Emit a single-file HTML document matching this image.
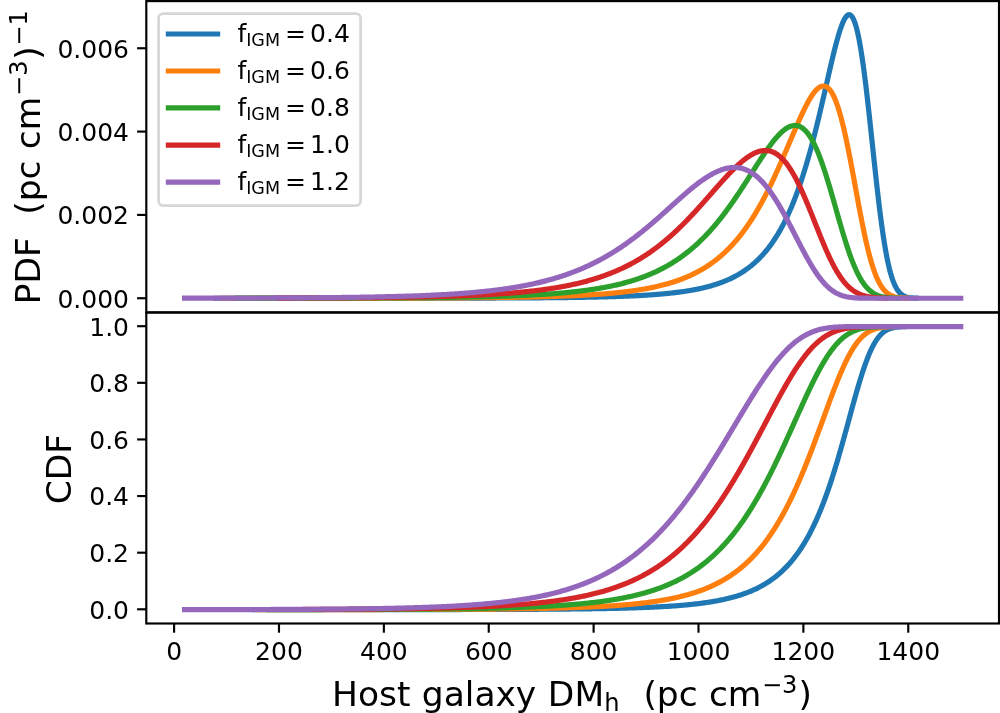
<!DOCTYPE html>
<html><head><meta charset="utf-8"><title>PDF and CDF of host galaxy DM</title>
<style>html,body{margin:0;padding:0;background:#fff}body{width:1000px;height:713px;overflow:hidden}svg{display:block}text{font-family:"DejaVu Sans","Liberation Sans",sans-serif;fill:#000}</style></head><body>
<svg width="1000" height="713" viewBox="0 0 1000 713">
<rect width="1000" height="713" fill="#fff"/>
<defs><clipPath id="c1"><rect x="146.3" y="1.1" width="852.7" height="311.34999999999997"/></clipPath><clipPath id="c2"><rect x="146.3" y="312.45" width="852.7" height="311.05"/></clipPath></defs>
<g fill="none" stroke-width="5.2" stroke-linejoin="round" clip-path="url(#c1)">
<path d="M213.59,298.24 L214.59,298.24 L215.59,298.24 L216.59,298.24 L217.59,298.24 L218.59,298.24 L219.59,298.24 L220.59,298.24 L221.59,298.24 L222.59,298.24 L223.59,298.24 L224.59,298.24 L225.59,298.24 L226.59,298.24 L227.59,298.24 L228.59,298.24 L229.59,298.24 L230.59,298.24 L231.59,298.24 L232.59,298.24 L233.59,298.24 L234.59,298.24 L235.59,298.24 L236.59,298.24 L237.59,298.24 L238.59,298.24 L239.59,298.24 L240.59,298.24 L241.59,298.24 L242.59,298.24 L243.59,298.24 L244.59,298.24 L245.59,298.24 L246.59,298.24 L247.59,298.24 L248.59,298.24 L249.59,298.24 L250.59,298.24 L251.59,298.24 L252.59,298.24 L253.59,298.24 L254.59,298.24 L255.59,298.24 L256.59,298.24 L257.59,298.24 L258.59,298.24 L259.59,298.24 L260.59,298.24 L261.59,298.24 L262.59,298.24 L263.59,298.24 L264.59,298.24 L265.59,298.24 L266.59,298.24 L267.59,298.24 L268.59,298.24 L269.59,298.24 L270.59,298.24 L271.59,298.24 L272.59,298.24 L273.59,298.24 L274.59,298.24 L275.59,298.24 L276.59,298.24 L277.59,298.24 L278.59,298.24 L279.59,298.24 L280.59,298.24 L281.59,298.24 L282.59,298.24 L283.59,298.24 L284.59,298.24 L285.59,298.24 L286.59,298.24 L287.59,298.24 L288.59,298.24 L289.59,298.24 L290.59,298.24 L291.59,298.24 L292.59,298.24 L293.59,298.24 L294.59,298.24 L295.59,298.24 L296.59,298.23 L297.59,298.23 L298.59,298.23 L299.59,298.23 L300.59,298.23 L301.59,298.23 L302.59,298.23 L303.59,298.23 L304.59,298.23 L305.59,298.23 L306.59,298.23 L307.59,298.23 L308.59,298.23 L309.59,298.23 L310.59,298.23 L311.59,298.23 L312.59,298.23 L313.59,298.23 L314.59,298.23 L315.59,298.23 L316.59,298.23 L317.59,298.23 L318.59,298.23 L319.59,298.23 L320.59,298.23 L321.59,298.23 L322.59,298.23 L323.59,298.23 L324.59,298.23 L325.59,298.23 L326.59,298.23 L327.59,298.23 L328.59,298.23 L329.59,298.23 L330.59,298.23 L331.59,298.23 L332.59,298.23 L333.59,298.23 L334.59,298.23 L335.59,298.23 L336.59,298.23 L337.59,298.23 L338.59,298.22 L339.59,298.22 L340.59,298.22 L341.59,298.22 L342.59,298.22 L343.59,298.22 L344.59,298.22 L345.59,298.22 L346.59,298.22 L347.59,298.22 L348.59,298.22 L349.59,298.22 L350.59,298.22 L351.59,298.22 L352.59,298.22 L353.59,298.22 L354.59,298.22 L355.59,298.22 L356.59,298.22 L357.59,298.22 L358.59,298.22 L359.59,298.22 L360.59,298.22 L361.59,298.22 L362.59,298.22 L363.59,298.22 L364.59,298.22 L365.59,298.21 L366.59,298.21 L367.59,298.21 L368.59,298.21 L369.59,298.21 L370.59,298.21 L371.59,298.21 L372.59,298.21 L373.59,298.21 L374.59,298.21 L375.59,298.21 L376.59,298.21 L377.59,298.21 L378.59,298.21 L379.59,298.21 L380.59,298.21 L381.59,298.21 L382.59,298.21 L383.59,298.21 L384.59,298.20 L385.59,298.20 L386.59,298.20 L387.59,298.20 L388.59,298.20 L389.59,298.20 L390.59,298.20 L391.59,298.20 L392.59,298.20 L393.59,298.20 L394.59,298.20 L395.59,298.20 L396.59,298.20 L397.59,298.20 L398.59,298.20 L399.59,298.19 L400.59,298.19 L401.59,298.19 L402.59,298.19 L403.59,298.19 L404.59,298.19 L405.59,298.19 L406.59,298.19 L407.59,298.19 L408.59,298.19 L409.59,298.19 L410.59,298.19 L411.59,298.18 L412.59,298.18 L413.59,298.18 L414.59,298.18 L415.59,298.18 L416.59,298.18 L417.59,298.18 L418.59,298.18 L419.59,298.18 L420.59,298.18 L421.59,298.17 L422.59,298.17 L423.59,298.17 L424.59,298.17 L425.59,298.17 L426.59,298.17 L427.59,298.17 L428.59,298.17 L429.59,298.17 L430.59,298.16 L431.59,298.16 L432.59,298.16 L433.59,298.16 L434.59,298.16 L435.59,298.16 L436.59,298.16 L437.59,298.16 L438.59,298.15 L439.59,298.15 L440.59,298.15 L441.59,298.15 L442.59,298.15 L443.59,298.15 L444.59,298.15 L445.59,298.14 L446.59,298.14 L447.59,298.14 L448.59,298.14 L449.59,298.14 L450.59,298.14 L451.59,298.14 L452.59,298.13 L453.59,298.13 L454.59,298.13 L455.59,298.13 L456.59,298.13 L457.59,298.12 L458.59,298.12 L459.59,298.12 L460.59,298.12 L461.59,298.12 L462.59,298.12 L463.59,298.11 L464.59,298.11 L465.59,298.11 L466.59,298.11 L467.59,298.10 L468.59,298.10 L469.59,298.10 L470.59,298.10 L471.59,298.10 L472.59,298.09 L473.59,298.09 L474.59,298.09 L475.59,298.09 L476.59,298.08 L477.59,298.08 L478.59,298.08 L479.59,298.08 L480.59,298.07 L481.59,298.07 L482.59,298.07 L483.59,298.07 L484.59,298.06 L485.59,298.06 L486.59,298.06 L487.59,298.05 L488.59,298.05 L489.59,298.05 L490.59,298.04 L491.59,298.04 L492.59,298.04 L493.59,298.04 L494.59,298.03 L495.59,298.03 L496.59,298.02 L497.59,298.02 L498.59,298.02 L499.59,298.01 L500.59,298.01 L501.59,298.01 L502.59,298.00 L503.59,298.00 L504.59,298.00 L505.59,297.99 L506.59,297.99 L507.59,297.98 L508.59,297.98 L509.59,297.97 L510.59,297.97 L511.59,297.97 L512.59,297.96 L513.59,297.96 L514.59,297.95 L515.59,297.95 L516.59,297.94 L517.59,297.94 L518.59,297.93 L519.59,297.93 L520.59,297.92 L521.59,297.92 L522.59,297.91 L523.59,297.91 L524.59,297.90 L525.59,297.89 L526.59,297.89 L527.59,297.88 L528.59,297.88 L529.59,297.87 L530.59,297.86 L531.59,297.86 L532.59,297.85 L533.59,297.84 L534.59,297.84 L535.59,297.83 L536.59,297.82 L537.59,297.82 L538.59,297.81 L539.59,297.80 L540.59,297.80 L541.59,297.79 L542.59,297.78 L543.59,297.77 L544.59,297.76 L545.59,297.76 L546.59,297.75 L547.59,297.74 L548.59,297.73 L549.59,297.72 L550.59,297.71 L551.59,297.70 L552.59,297.69 L553.59,297.69 L554.59,297.68 L555.59,297.67 L556.59,297.66 L557.59,297.65 L558.59,297.63 L559.59,297.62 L560.59,297.61 L561.59,297.60 L562.59,297.59 L563.59,297.58 L564.59,297.57 L565.59,297.56 L566.59,297.54 L567.59,297.53 L568.59,297.52 L569.59,297.51 L570.59,297.49 L571.59,297.48 L572.59,297.47 L573.59,297.45 L574.59,297.44 L575.59,297.42 L576.59,297.41 L577.59,297.40 L578.59,297.38 L579.59,297.36 L580.59,297.35 L581.59,297.33 L582.59,297.32 L583.59,297.30 L584.59,297.28 L585.59,297.27 L586.59,297.25 L587.59,297.23 L588.59,297.21 L589.59,297.19 L590.59,297.17 L591.59,297.15 L592.59,297.13 L593.59,297.11 L594.59,297.09 L595.59,297.07 L596.59,297.05 L597.59,297.03 L598.59,297.00 L599.59,296.98 L600.59,296.96 L601.59,296.93 L602.59,296.91 L603.59,296.88 L604.59,296.86 L605.59,296.83 L606.59,296.81 L607.59,296.78 L608.59,296.75 L609.59,296.72 L610.59,296.69 L611.59,296.67 L612.59,296.64 L613.59,296.60 L614.59,296.57 L615.59,296.54 L616.59,296.51 L617.59,296.48 L618.59,296.44 L619.59,296.41 L620.59,296.37 L621.59,296.34 L622.59,296.30 L623.59,296.26 L624.59,296.22 L625.59,296.18 L626.59,296.14 L627.59,296.10 L628.59,296.06 L629.59,296.02 L630.59,295.97 L631.59,295.93 L632.59,295.88 L633.59,295.84 L634.59,295.79 L635.59,295.74 L636.59,295.69 L637.59,295.64 L638.59,295.59 L639.59,295.53 L640.59,295.48 L641.59,295.42 L642.59,295.37 L643.59,295.31 L644.59,295.25 L645.59,295.19 L646.59,295.13 L647.59,295.07 L648.59,295.00 L649.59,294.93 L650.59,294.87 L651.59,294.80 L652.59,294.73 L653.59,294.65 L654.59,294.58 L655.59,294.51 L656.59,294.43 L657.59,294.35 L658.59,294.27 L659.59,294.19 L660.59,294.10 L661.59,294.01 L662.59,293.93 L663.59,293.84 L664.59,293.74 L665.59,293.65 L666.59,293.55 L667.59,293.45 L668.59,293.35 L669.59,293.25 L670.59,293.14 L671.59,293.03 L672.59,292.92 L673.59,292.81 L674.59,292.69 L675.59,292.57 L676.59,292.45 L677.59,292.32 L678.59,292.19 L679.59,292.06 L680.59,291.93 L681.59,291.79 L682.59,291.65 L683.59,291.51 L684.59,291.36 L685.59,291.21 L686.59,291.05 L687.59,290.89 L688.59,290.73 L689.59,290.56 L690.59,290.39 L691.59,290.22 L692.59,290.04 L693.59,289.86 L694.59,289.67 L695.59,289.48 L696.59,289.28 L697.59,289.08 L698.59,288.87 L699.59,288.66 L700.59,288.44 L701.59,288.22 L702.59,287.99 L703.59,287.76 L704.59,287.52 L705.59,287.27 L706.59,287.02 L707.59,286.76 L708.59,286.49 L709.59,286.22 L710.59,285.94 L711.59,285.66 L712.59,285.36 L713.59,285.06 L714.59,284.76 L715.59,284.44 L716.59,284.12 L717.59,283.78 L718.59,283.44 L719.59,283.09 L720.59,282.73 L721.59,282.36 L722.59,281.99 L723.59,281.60 L724.59,281.20 L725.59,280.79 L726.59,280.37 L727.59,279.95 L728.59,279.50 L729.59,279.05 L730.59,278.59 L731.59,278.11 L732.59,277.62 L733.59,277.12 L734.59,276.60 L735.59,276.08 L736.59,275.53 L737.59,274.97 L738.59,274.40 L739.59,273.81 L740.59,273.21 L741.59,272.59 L742.59,271.95 L743.59,271.30 L744.59,270.63 L745.59,269.94 L746.59,269.23 L747.59,268.51 L748.59,267.76 L749.59,266.99 L750.59,266.21 L751.59,265.40 L752.59,264.57 L753.59,263.72 L754.59,262.84 L755.59,261.94 L756.59,261.01 L757.59,260.06 L758.59,259.09 L759.59,258.09 L760.59,257.06 L761.59,256.00 L762.59,254.91 L763.59,253.80 L764.59,252.65 L765.59,251.47 L766.59,250.26 L767.59,249.02 L768.59,247.74 L769.59,246.43 L770.59,245.08 L771.59,243.69 L772.59,242.27 L773.59,240.81 L774.59,239.31 L775.59,237.77 L776.59,236.18 L777.59,234.56 L778.59,232.89 L779.59,231.17 L780.59,229.41 L781.59,227.60 L782.59,225.74 L783.59,223.84 L784.59,221.88 L785.59,219.87 L786.59,217.80 L787.59,215.69 L788.59,213.51 L789.59,211.28 L790.59,209.00 L791.59,206.65 L792.59,204.24 L793.59,201.78 L794.59,199.25 L795.59,196.65 L796.59,194.00 L797.59,191.27 L798.59,188.48 L799.59,185.63 L800.59,182.70 L801.59,179.71 L802.59,176.64 L803.59,173.51 L804.59,170.30 L805.59,167.03 L806.59,163.68 L807.59,160.26 L808.59,156.78 L809.59,153.22 L810.59,149.59 L811.59,145.89 L812.59,142.12 L813.59,138.29 L814.59,134.39 L815.59,130.43 L816.59,126.40 L817.59,122.32 L818.59,118.19 L819.59,114.00 L820.59,109.77 L821.59,105.49 L822.59,101.18 L823.59,96.84 L824.59,92.48 L825.59,88.10 L826.59,83.71 L827.59,79.32 L828.59,74.95 L829.59,70.60 L830.59,66.29 L831.59,62.02 L832.59,57.82 L833.59,53.70 L834.59,49.67 L835.59,45.75 L836.59,41.96 L837.59,38.33 L838.59,34.86 L839.59,31.59 L840.59,28.53 L841.59,25.71 L842.59,23.15 L843.59,20.88 L844.59,18.93 L845.59,17.31 L846.59,16.05 L847.59,15.18 L848.59,14.73 L849.59,14.71 L850.59,15.15 L851.59,16.07 L852.59,17.48 L853.59,19.41 L854.59,21.86 L855.59,24.85 L856.59,28.38 L857.59,32.45 L858.59,37.07 L859.59,42.23 L860.59,47.91 L861.59,54.10 L862.59,60.77 L863.59,67.91 L864.59,75.48 L865.59,83.44 L866.59,91.75 L867.59,100.38 L868.59,109.26 L869.59,118.35 L870.59,127.60 L871.59,136.95 L872.59,146.34 L873.59,155.72 L874.59,165.03 L875.59,174.23 L876.59,183.25 L877.59,192.05 L878.59,200.59 L879.59,208.83 L880.59,216.73 L881.59,224.26 L882.59,231.39 L883.59,238.12 L884.59,244.42 L885.59,250.28 L886.59,255.72 L887.59,260.72 L888.59,265.30 L889.59,269.46 L890.59,273.22 L891.59,276.61 L892.59,279.63 L893.59,282.32 L894.59,284.69 L895.59,286.76 L896.59,288.58 L897.59,290.15 L898.59,291.50 L899.59,292.66 L900.59,293.65 L901.59,294.48 L902.59,295.18 L903.59,295.76 L904.59,296.25 L905.59,296.65 L906.59,296.98 L907.59,297.24 L908.59,297.46 L909.59,297.63 L910.59,297.77 L911.59,297.88 L912.59,297.96 L913.59,298.03 L914.59,298.08 L915.59,298.13 L916.59,298.16 L917.59,298.18 L918.59,298.20" stroke="#1f77b4" stroke-linecap="butt"/>
<path d="M219.59,298.23 L220.59,298.23 L221.59,298.23 L222.59,298.23 L223.59,298.23 L224.59,298.23 L225.59,298.23 L226.59,298.23 L227.59,298.23 L228.59,298.23 L229.59,298.23 L230.59,298.23 L231.59,298.23 L232.59,298.23 L233.59,298.23 L234.59,298.23 L235.59,298.23 L236.59,298.23 L237.59,298.23 L238.59,298.23 L239.59,298.23 L240.59,298.23 L241.59,298.23 L242.59,298.23 L243.59,298.23 L244.59,298.23 L245.59,298.23 L246.59,298.23 L247.59,298.23 L248.59,298.23 L249.59,298.23 L250.59,298.22 L251.59,298.22 L252.59,298.22 L253.59,298.22 L254.59,298.22 L255.59,298.22 L256.59,298.22 L257.59,298.22 L258.59,298.22 L259.59,298.22 L260.59,298.22 L261.59,298.22 L262.59,298.22 L263.59,298.22 L264.59,298.22 L265.59,298.22 L266.59,298.22 L267.59,298.22 L268.59,298.22 L269.59,298.22 L270.59,298.22 L271.59,298.22 L272.59,298.22 L273.59,298.22 L274.59,298.22 L275.59,298.22 L276.59,298.22 L277.59,298.22 L278.59,298.21 L279.59,298.21 L280.59,298.21 L281.59,298.21 L282.59,298.21 L283.59,298.21 L284.59,298.21 L285.59,298.21 L286.59,298.21 L287.59,298.21 L288.59,298.21 L289.59,298.21 L290.59,298.21 L291.59,298.21 L292.59,298.21 L293.59,298.21 L294.59,298.21 L295.59,298.21 L296.59,298.21 L297.59,298.21 L298.59,298.20 L299.59,298.20 L300.59,298.20 L301.59,298.20 L302.59,298.20 L303.59,298.20 L304.59,298.20 L305.59,298.20 L306.59,298.20 L307.59,298.20 L308.59,298.20 L309.59,298.20 L310.59,298.20 L311.59,298.20 L312.59,298.20 L313.59,298.20 L314.59,298.19 L315.59,298.19 L316.59,298.19 L317.59,298.19 L318.59,298.19 L319.59,298.19 L320.59,298.19 L321.59,298.19 L322.59,298.19 L323.59,298.19 L324.59,298.19 L325.59,298.19 L326.59,298.19 L327.59,298.18 L328.59,298.18 L329.59,298.18 L330.59,298.18 L331.59,298.18 L332.59,298.18 L333.59,298.18 L334.59,298.18 L335.59,298.18 L336.59,298.18 L337.59,298.18 L338.59,298.17 L339.59,298.17 L340.59,298.17 L341.59,298.17 L342.59,298.17 L343.59,298.17 L344.59,298.17 L345.59,298.17 L346.59,298.17 L347.59,298.17 L348.59,298.16 L349.59,298.16 L350.59,298.16 L351.59,298.16 L352.59,298.16 L353.59,298.16 L354.59,298.16 L355.59,298.16 L356.59,298.15 L357.59,298.15 L358.59,298.15 L359.59,298.15 L360.59,298.15 L361.59,298.15 L362.59,298.15 L363.59,298.15 L364.59,298.14 L365.59,298.14 L366.59,298.14 L367.59,298.14 L368.59,298.14 L369.59,298.14 L370.59,298.13 L371.59,298.13 L372.59,298.13 L373.59,298.13 L374.59,298.13 L375.59,298.13 L376.59,298.13 L377.59,298.12 L378.59,298.12 L379.59,298.12 L380.59,298.12 L381.59,298.12 L382.59,298.11 L383.59,298.11 L384.59,298.11 L385.59,298.11 L386.59,298.11 L387.59,298.10 L388.59,298.10 L389.59,298.10 L390.59,298.10 L391.59,298.10 L392.59,298.09 L393.59,298.09 L394.59,298.09 L395.59,298.09 L396.59,298.09 L397.59,298.08 L398.59,298.08 L399.59,298.08 L400.59,298.08 L401.59,298.07 L402.59,298.07 L403.59,298.07 L404.59,298.07 L405.59,298.06 L406.59,298.06 L407.59,298.06 L408.59,298.06 L409.59,298.05 L410.59,298.05 L411.59,298.05 L412.59,298.04 L413.59,298.04 L414.59,298.04 L415.59,298.04 L416.59,298.03 L417.59,298.03 L418.59,298.03 L419.59,298.02 L420.59,298.02 L421.59,298.02 L422.59,298.01 L423.59,298.01 L424.59,298.01 L425.59,298.00 L426.59,298.00 L427.59,298.00 L428.59,297.99 L429.59,297.99 L430.59,297.98 L431.59,297.98 L432.59,297.98 L433.59,297.97 L434.59,297.97 L435.59,297.96 L436.59,297.96 L437.59,297.96 L438.59,297.95 L439.59,297.95 L440.59,297.94 L441.59,297.94 L442.59,297.93 L443.59,297.93 L444.59,297.92 L445.59,297.92 L446.59,297.91 L447.59,297.91 L448.59,297.90 L449.59,297.90 L450.59,297.89 L451.59,297.89 L452.59,297.88 L453.59,297.88 L454.59,297.87 L455.59,297.87 L456.59,297.86 L457.59,297.85 L458.59,297.85 L459.59,297.84 L460.59,297.84 L461.59,297.83 L462.59,297.82 L463.59,297.82 L464.59,297.81 L465.59,297.80 L466.59,297.80 L467.59,297.79 L468.59,297.78 L469.59,297.78 L470.59,297.77 L471.59,297.76 L472.59,297.75 L473.59,297.75 L474.59,297.74 L475.59,297.73 L476.59,297.72 L477.59,297.71 L478.59,297.71 L479.59,297.70 L480.59,297.69 L481.59,297.68 L482.59,297.67 L483.59,297.66 L484.59,297.65 L485.59,297.64 L486.59,297.64 L487.59,297.63 L488.59,297.62 L489.59,297.61 L490.59,297.60 L491.59,297.59 L492.59,297.58 L493.59,297.56 L494.59,297.55 L495.59,297.54 L496.59,297.53 L497.59,297.52 L498.59,297.51 L499.59,297.50 L500.59,297.49 L501.59,297.47 L502.59,297.46 L503.59,297.45 L504.59,297.44 L505.59,297.42 L506.59,297.41 L507.59,297.40 L508.59,297.38 L509.59,297.37 L510.59,297.35 L511.59,297.34 L512.59,297.32 L513.59,297.31 L514.59,297.29 L515.59,297.28 L516.59,297.26 L517.59,297.25 L518.59,297.23 L519.59,297.21 L520.59,297.20 L521.59,297.18 L522.59,297.16 L523.59,297.15 L524.59,297.13 L525.59,297.11 L526.59,297.09 L527.59,297.07 L528.59,297.05 L529.59,297.03 L530.59,297.01 L531.59,296.99 L532.59,296.97 L533.59,296.95 L534.59,296.93 L535.59,296.91 L536.59,296.88 L537.59,296.86 L538.59,296.84 L539.59,296.81 L540.59,296.79 L541.59,296.77 L542.59,296.74 L543.59,296.72 L544.59,296.69 L545.59,296.66 L546.59,296.64 L547.59,296.61 L548.59,296.58 L549.59,296.55 L550.59,296.52 L551.59,296.50 L552.59,296.47 L553.59,296.44 L554.59,296.40 L555.59,296.37 L556.59,296.34 L557.59,296.31 L558.59,296.27 L559.59,296.24 L560.59,296.21 L561.59,296.17 L562.59,296.14 L563.59,296.10 L564.59,296.06 L565.59,296.02 L566.59,295.99 L567.59,295.95 L568.59,295.91 L569.59,295.87 L570.59,295.82 L571.59,295.78 L572.59,295.74 L573.59,295.69 L574.59,295.65 L575.59,295.60 L576.59,295.56 L577.59,295.51 L578.59,295.46 L579.59,295.41 L580.59,295.36 L581.59,295.31 L582.59,295.26 L583.59,295.21 L584.59,295.15 L585.59,295.10 L586.59,295.04 L587.59,294.99 L588.59,294.93 L589.59,294.87 L590.59,294.81 L591.59,294.75 L592.59,294.68 L593.59,294.62 L594.59,294.55 L595.59,294.49 L596.59,294.42 L597.59,294.35 L598.59,294.28 L599.59,294.21 L600.59,294.13 L601.59,294.06 L602.59,293.98 L603.59,293.91 L604.59,293.83 L605.59,293.75 L606.59,293.66 L607.59,293.58 L608.59,293.49 L609.59,293.41 L610.59,293.32 L611.59,293.23 L612.59,293.13 L613.59,293.04 L614.59,292.94 L615.59,292.84 L616.59,292.74 L617.59,292.64 L618.59,292.54 L619.59,292.43 L620.59,292.32 L621.59,292.21 L622.59,292.10 L623.59,291.98 L624.59,291.87 L625.59,291.75 L626.59,291.62 L627.59,291.50 L628.59,291.37 L629.59,291.24 L630.59,291.11 L631.59,290.98 L632.59,290.84 L633.59,290.70 L634.59,290.55 L635.59,290.41 L636.59,290.26 L637.59,290.11 L638.59,289.95 L639.59,289.79 L640.59,289.63 L641.59,289.46 L642.59,289.30 L643.59,289.12 L644.59,288.95 L645.59,288.77 L646.59,288.59 L647.59,288.40 L648.59,288.21 L649.59,288.01 L650.59,287.82 L651.59,287.61 L652.59,287.41 L653.59,287.20 L654.59,286.98 L655.59,286.76 L656.59,286.54 L657.59,286.31 L658.59,286.07 L659.59,285.83 L660.59,285.59 L661.59,285.34 L662.59,285.09 L663.59,284.83 L664.59,284.56 L665.59,284.29 L666.59,284.02 L667.59,283.74 L668.59,283.45 L669.59,283.16 L670.59,282.86 L671.59,282.55 L672.59,282.24 L673.59,281.92 L674.59,281.59 L675.59,281.26 L676.59,280.92 L677.59,280.57 L678.59,280.22 L679.59,279.86 L680.59,279.49 L681.59,279.11 L682.59,278.73 L683.59,278.33 L684.59,277.93 L685.59,277.52 L686.59,277.10 L687.59,276.67 L688.59,276.24 L689.59,275.79 L690.59,275.34 L691.59,274.87 L692.59,274.40 L693.59,273.91 L694.59,273.42 L695.59,272.91 L696.59,272.40 L697.59,271.87 L698.59,271.33 L699.59,270.78 L700.59,270.22 L701.59,269.65 L702.59,269.06 L703.59,268.47 L704.59,267.86 L705.59,267.23 L706.59,266.60 L707.59,265.95 L708.59,265.29 L709.59,264.61 L710.59,263.92 L711.59,263.21 L712.59,262.49 L713.59,261.76 L714.59,261.01 L715.59,260.24 L716.59,259.46 L717.59,258.66 L718.59,257.85 L719.59,257.02 L720.59,256.17 L721.59,255.30 L722.59,254.42 L723.59,253.52 L724.59,252.60 L725.59,251.66 L726.59,250.70 L727.59,249.72 L728.59,248.72 L729.59,247.71 L730.59,246.67 L731.59,245.61 L732.59,244.53 L733.59,243.43 L734.59,242.30 L735.59,241.16 L736.59,239.99 L737.59,238.80 L738.59,237.59 L739.59,236.35 L740.59,235.09 L741.59,233.80 L742.59,232.49 L743.59,231.16 L744.59,229.80 L745.59,228.42 L746.59,227.01 L747.59,225.57 L748.59,224.11 L749.59,222.62 L750.59,221.11 L751.59,219.57 L752.59,218.00 L753.59,216.40 L754.59,214.78 L755.59,213.13 L756.59,211.45 L757.59,209.75 L758.59,208.01 L759.59,206.25 L760.59,204.47 L761.59,202.65 L762.59,200.81 L763.59,198.94 L764.59,197.04 L765.59,195.11 L766.59,193.16 L767.59,191.18 L768.59,189.18 L769.59,187.15 L770.59,185.09 L771.59,183.01 L772.59,180.91 L773.59,178.78 L774.59,176.63 L775.59,174.46 L776.59,172.27 L777.59,170.05 L778.59,167.82 L779.59,165.57 L780.59,163.30 L781.59,161.02 L782.59,158.72 L783.59,156.41 L784.59,154.09 L785.59,151.75 L786.59,149.41 L787.59,147.07 L788.59,144.72 L789.59,142.37 L790.59,140.01 L791.59,137.66 L792.59,135.32 L793.59,132.98 L794.59,130.66 L795.59,128.34 L796.59,126.04 L797.59,123.76 L798.59,121.51 L799.59,119.28 L800.59,117.08 L801.59,114.91 L802.59,112.78 L803.59,110.69 L804.59,108.65 L805.59,106.66 L806.59,104.72 L807.59,102.84 L808.59,101.03 L809.59,99.29 L810.59,97.63 L811.59,96.05 L812.59,94.56 L813.59,93.17 L814.59,91.88 L815.59,90.69 L816.59,89.62 L817.59,88.68 L818.59,87.86 L819.59,87.18 L820.59,86.65 L821.59,86.26 L822.59,86.04 L823.59,85.98 L824.59,86.09 L825.59,86.39 L826.59,86.87 L827.59,87.54 L828.59,88.42 L829.59,89.50 L830.59,90.79 L831.59,92.29 L832.59,94.01 L833.59,95.96 L834.59,98.13 L835.59,100.53 L836.59,103.16 L837.59,106.01 L838.59,109.08 L839.59,112.38 L840.59,115.90 L841.59,119.63 L842.59,123.56 L843.59,127.70 L844.59,132.02 L845.59,136.52 L846.59,141.19 L847.59,146.01 L848.59,150.97 L849.59,156.06 L850.59,161.25 L851.59,166.53 L852.59,171.89 L853.59,177.29 L854.59,182.74 L855.59,188.19 L856.59,193.64 L857.59,199.06 L858.59,204.44 L859.59,209.76 L860.59,214.99 L861.59,220.13 L862.59,225.15 L863.59,230.03 L864.59,234.78 L865.59,239.36 L866.59,243.77 L867.59,248.01 L868.59,252.05 L869.59,255.90 L870.59,259.56 L871.59,263.01 L872.59,266.25 L873.59,269.30 L874.59,272.14 L875.59,274.78 L876.59,277.23 L877.59,279.48 L878.59,281.56 L879.59,283.45 L880.59,285.18 L881.59,286.75 L882.59,288.17 L883.59,289.44 L884.59,290.59 L885.59,291.61 L886.59,292.51 L887.59,293.31 L888.59,294.02 L889.59,294.64 L890.59,295.18 L891.59,295.65 L892.59,296.06 L893.59,296.41 L894.59,296.71 L895.59,296.96 L896.59,297.18 L897.59,297.37 L898.59,297.52 L899.59,297.65 L900.59,297.76 L901.59,297.86 L902.59,297.93 L903.59,297.99 L904.59,298.04 L905.59,298.08 L906.59,298.12 L907.59,298.15 L908.59,298.17 L909.59,298.19" stroke="#ff7f0e" stroke-linecap="butt"/>
<path d="M234.59,298.20 L235.59,298.20 L236.59,298.20 L237.59,298.20 L238.59,298.20 L239.59,298.20 L240.59,298.20 L241.59,298.20 L242.59,298.20 L243.59,298.20 L244.59,298.20 L245.59,298.20 L246.59,298.19 L247.59,298.19 L248.59,298.19 L249.59,298.19 L250.59,298.19 L251.59,298.19 L252.59,298.19 L253.59,298.19 L254.59,298.19 L255.59,298.19 L256.59,298.19 L257.59,298.19 L258.59,298.19 L259.59,298.18 L260.59,298.18 L261.59,298.18 L262.59,298.18 L263.59,298.18 L264.59,298.18 L265.59,298.18 L266.59,298.18 L267.59,298.18 L268.59,298.18 L269.59,298.18 L270.59,298.17 L271.59,298.17 L272.59,298.17 L273.59,298.17 L274.59,298.17 L275.59,298.17 L276.59,298.17 L277.59,298.17 L278.59,298.17 L279.59,298.17 L280.59,298.16 L281.59,298.16 L282.59,298.16 L283.59,298.16 L284.59,298.16 L285.59,298.16 L286.59,298.16 L287.59,298.16 L288.59,298.16 L289.59,298.15 L290.59,298.15 L291.59,298.15 L292.59,298.15 L293.59,298.15 L294.59,298.15 L295.59,298.15 L296.59,298.14 L297.59,298.14 L298.59,298.14 L299.59,298.14 L300.59,298.14 L301.59,298.14 L302.59,298.14 L303.59,298.13 L304.59,298.13 L305.59,298.13 L306.59,298.13 L307.59,298.13 L308.59,298.13 L309.59,298.13 L310.59,298.12 L311.59,298.12 L312.59,298.12 L313.59,298.12 L314.59,298.12 L315.59,298.12 L316.59,298.11 L317.59,298.11 L318.59,298.11 L319.59,298.11 L320.59,298.11 L321.59,298.10 L322.59,298.10 L323.59,298.10 L324.59,298.10 L325.59,298.10 L326.59,298.09 L327.59,298.09 L328.59,298.09 L329.59,298.09 L330.59,298.09 L331.59,298.08 L332.59,298.08 L333.59,298.08 L334.59,298.08 L335.59,298.07 L336.59,298.07 L337.59,298.07 L338.59,298.07 L339.59,298.06 L340.59,298.06 L341.59,298.06 L342.59,298.06 L343.59,298.05 L344.59,298.05 L345.59,298.05 L346.59,298.05 L347.59,298.04 L348.59,298.04 L349.59,298.04 L350.59,298.03 L351.59,298.03 L352.59,298.03 L353.59,298.02 L354.59,298.02 L355.59,298.02 L356.59,298.02 L357.59,298.01 L358.59,298.01 L359.59,298.01 L360.59,298.00 L361.59,298.00 L362.59,298.00 L363.59,297.99 L364.59,297.99 L365.59,297.98 L366.59,297.98 L367.59,297.98 L368.59,297.97 L369.59,297.97 L370.59,297.97 L371.59,297.96 L372.59,297.96 L373.59,297.95 L374.59,297.95 L375.59,297.94 L376.59,297.94 L377.59,297.94 L378.59,297.93 L379.59,297.93 L380.59,297.92 L381.59,297.92 L382.59,297.91 L383.59,297.91 L384.59,297.90 L385.59,297.90 L386.59,297.89 L387.59,297.89 L388.59,297.88 L389.59,297.88 L390.59,297.87 L391.59,297.87 L392.59,297.86 L393.59,297.86 L394.59,297.85 L395.59,297.85 L396.59,297.84 L397.59,297.83 L398.59,297.83 L399.59,297.82 L400.59,297.82 L401.59,297.81 L402.59,297.80 L403.59,297.80 L404.59,297.79 L405.59,297.78 L406.59,297.78 L407.59,297.77 L408.59,297.76 L409.59,297.76 L410.59,297.75 L411.59,297.74 L412.59,297.73 L413.59,297.73 L414.59,297.72 L415.59,297.71 L416.59,297.70 L417.59,297.69 L418.59,297.69 L419.59,297.68 L420.59,297.67 L421.59,297.66 L422.59,297.65 L423.59,297.64 L424.59,297.63 L425.59,297.63 L426.59,297.62 L427.59,297.61 L428.59,297.60 L429.59,297.59 L430.59,297.58 L431.59,297.57 L432.59,297.56 L433.59,297.55 L434.59,297.54 L435.59,297.53 L436.59,297.52 L437.59,297.50 L438.59,297.49 L439.59,297.48 L440.59,297.47 L441.59,297.46 L442.59,297.45 L443.59,297.43 L444.59,297.42 L445.59,297.41 L446.59,297.40 L447.59,297.38 L448.59,297.37 L449.59,297.36 L450.59,297.34 L451.59,297.33 L452.59,297.32 L453.59,297.30 L454.59,297.29 L455.59,297.27 L456.59,297.26 L457.59,297.24 L458.59,297.23 L459.59,297.21 L460.59,297.20 L461.59,297.18 L462.59,297.16 L463.59,297.15 L464.59,297.13 L465.59,297.11 L466.59,297.10 L467.59,297.08 L468.59,297.06 L469.59,297.04 L470.59,297.02 L471.59,297.00 L472.59,296.99 L473.59,296.97 L474.59,296.95 L475.59,296.93 L476.59,296.91 L477.59,296.88 L478.59,296.86 L479.59,296.84 L480.59,296.82 L481.59,296.80 L482.59,296.78 L483.59,296.75 L484.59,296.73 L485.59,296.70 L486.59,296.68 L487.59,296.66 L488.59,296.63 L489.59,296.61 L490.59,296.58 L491.59,296.55 L492.59,296.53 L493.59,296.50 L494.59,296.47 L495.59,296.44 L496.59,296.42 L497.59,296.39 L498.59,296.36 L499.59,296.33 L500.59,296.30 L501.59,296.27 L502.59,296.23 L503.59,296.20 L504.59,296.17 L505.59,296.14 L506.59,296.10 L507.59,296.07 L508.59,296.03 L509.59,296.00 L510.59,295.96 L511.59,295.92 L512.59,295.89 L513.59,295.85 L514.59,295.81 L515.59,295.77 L516.59,295.73 L517.59,295.69 L518.59,295.65 L519.59,295.61 L520.59,295.57 L521.59,295.52 L522.59,295.48 L523.59,295.43 L524.59,295.39 L525.59,295.34 L526.59,295.29 L527.59,295.24 L528.59,295.20 L529.59,295.15 L530.59,295.10 L531.59,295.04 L532.59,294.99 L533.59,294.94 L534.59,294.88 L535.59,294.83 L536.59,294.77 L537.59,294.72 L538.59,294.66 L539.59,294.60 L540.59,294.54 L541.59,294.48 L542.59,294.41 L543.59,294.35 L544.59,294.29 L545.59,294.22 L546.59,294.15 L547.59,294.09 L548.59,294.02 L549.59,293.95 L550.59,293.88 L551.59,293.80 L552.59,293.73 L553.59,293.65 L554.59,293.58 L555.59,293.50 L556.59,293.42 L557.59,293.34 L558.59,293.26 L559.59,293.17 L560.59,293.09 L561.59,293.00 L562.59,292.91 L563.59,292.82 L564.59,292.73 L565.59,292.64 L566.59,292.54 L567.59,292.45 L568.59,292.35 L569.59,292.25 L570.59,292.15 L571.59,292.04 L572.59,291.94 L573.59,291.83 L574.59,291.72 L575.59,291.61 L576.59,291.50 L577.59,291.39 L578.59,291.27 L579.59,291.15 L580.59,291.03 L581.59,290.90 L582.59,290.78 L583.59,290.65 L584.59,290.52 L585.59,290.39 L586.59,290.25 L587.59,290.12 L588.59,289.98 L589.59,289.84 L590.59,289.69 L591.59,289.54 L592.59,289.39 L593.59,289.24 L594.59,289.09 L595.59,288.93 L596.59,288.77 L597.59,288.60 L598.59,288.44 L599.59,288.27 L600.59,288.10 L601.59,287.92 L602.59,287.74 L603.59,287.56 L604.59,287.37 L605.59,287.18 L606.59,286.99 L607.59,286.80 L608.59,286.60 L609.59,286.39 L610.59,286.19 L611.59,285.98 L612.59,285.76 L613.59,285.55 L614.59,285.32 L615.59,285.10 L616.59,284.87 L617.59,284.63 L618.59,284.40 L619.59,284.15 L620.59,283.91 L621.59,283.66 L622.59,283.40 L623.59,283.14 L624.59,282.87 L625.59,282.60 L626.59,282.33 L627.59,282.05 L628.59,281.77 L629.59,281.48 L630.59,281.18 L631.59,280.88 L632.59,280.57 L633.59,280.26 L634.59,279.95 L635.59,279.62 L636.59,279.30 L637.59,278.96 L638.59,278.62 L639.59,278.28 L640.59,277.92 L641.59,277.57 L642.59,277.20 L643.59,276.83 L644.59,276.45 L645.59,276.07 L646.59,275.67 L647.59,275.27 L648.59,274.87 L649.59,274.46 L650.59,274.04 L651.59,273.61 L652.59,273.17 L653.59,272.73 L654.59,272.28 L655.59,271.82 L656.59,271.35 L657.59,270.88 L658.59,270.39 L659.59,269.90 L660.59,269.40 L661.59,268.89 L662.59,268.38 L663.59,267.85 L664.59,267.31 L665.59,266.77 L666.59,266.21 L667.59,265.65 L668.59,265.07 L669.59,264.49 L670.59,263.90 L671.59,263.29 L672.59,262.68 L673.59,262.05 L674.59,261.42 L675.59,260.77 L676.59,260.11 L677.59,259.45 L678.59,258.77 L679.59,258.08 L680.59,257.37 L681.59,256.66 L682.59,255.93 L683.59,255.20 L684.59,254.45 L685.59,253.69 L686.59,252.91 L687.59,252.13 L688.59,251.33 L689.59,250.51 L690.59,249.69 L691.59,248.85 L692.59,248.00 L693.59,247.13 L694.59,246.26 L695.59,245.36 L696.59,244.46 L697.59,243.54 L698.59,242.61 L699.59,241.66 L700.59,240.70 L701.59,239.72 L702.59,238.73 L703.59,237.73 L704.59,236.71 L705.59,235.67 L706.59,234.62 L707.59,233.56 L708.59,232.48 L709.59,231.39 L710.59,230.28 L711.59,229.15 L712.59,228.01 L713.59,226.86 L714.59,225.69 L715.59,224.51 L716.59,223.31 L717.59,222.09 L718.59,220.86 L719.59,219.62 L720.59,218.36 L721.59,217.09 L722.59,215.80 L723.59,214.49 L724.59,213.18 L725.59,211.84 L726.59,210.50 L727.59,209.14 L728.59,207.76 L729.59,206.38 L730.59,204.98 L731.59,203.56 L732.59,202.14 L733.59,200.70 L734.59,199.25 L735.59,197.79 L736.59,196.31 L737.59,194.83 L738.59,193.34 L739.59,191.83 L740.59,190.32 L741.59,188.80 L742.59,187.27 L743.59,185.74 L744.59,184.19 L745.59,182.64 L746.59,181.09 L747.59,179.53 L748.59,177.97 L749.59,176.40 L750.59,174.84 L751.59,173.27 L752.59,171.70 L753.59,170.13 L754.59,168.57 L755.59,167.01 L756.59,165.45 L757.59,163.90 L758.59,162.35 L759.59,160.82 L760.59,159.29 L761.59,157.77 L762.59,156.26 L763.59,154.77 L764.59,153.29 L765.59,151.83 L766.59,150.39 L767.59,148.97 L768.59,147.56 L769.59,146.18 L770.59,144.83 L771.59,143.50 L772.59,142.20 L773.59,140.94 L774.59,139.70 L775.59,138.50 L776.59,137.34 L777.59,136.21 L778.59,135.13 L779.59,134.09 L780.59,133.10 L781.59,132.15 L782.59,131.26 L783.59,130.42 L784.59,129.63 L785.59,128.91 L786.59,128.24 L787.59,127.64 L788.59,127.11 L789.59,126.65 L790.59,126.26 L791.59,125.94 L792.59,125.70 L793.59,125.54 L794.59,125.47 L795.59,125.48 L796.59,125.58 L797.59,125.77 L798.59,126.05 L799.59,126.43 L800.59,126.91 L801.59,127.49 L802.59,128.17 L803.59,128.95 L804.59,129.85 L805.59,130.85 L806.59,131.96 L807.59,133.18 L808.59,134.52 L809.59,135.96 L810.59,137.52 L811.59,139.19 L812.59,140.98 L813.59,142.88 L814.59,144.89 L815.59,147.01 L816.59,149.24 L817.59,151.58 L818.59,154.03 L819.59,156.57 L820.59,159.22 L821.59,161.96 L822.59,164.80 L823.59,167.72 L824.59,170.73 L825.59,173.82 L826.59,176.98 L827.59,180.21 L828.59,183.49 L829.59,186.84 L830.59,190.23 L831.59,193.66 L832.59,197.13 L833.59,200.62 L834.59,204.13 L835.59,207.66 L836.59,211.18 L837.59,214.70 L838.59,218.21 L839.59,221.69 L840.59,225.15 L841.59,228.57 L842.59,231.95 L843.59,235.27 L844.59,238.54 L845.59,241.74 L846.59,244.87 L847.59,247.93 L848.59,250.90 L849.59,253.79 L850.59,256.58 L851.59,259.28 L852.59,261.88 L853.59,264.37 L854.59,266.77 L855.59,269.06 L856.59,271.24 L857.59,273.31 L858.59,275.28 L859.59,277.14 L860.59,278.90 L861.59,280.55 L862.59,282.10 L863.59,283.55 L864.59,284.90 L865.59,286.16 L866.59,287.33 L867.59,288.41 L868.59,289.40 L869.59,290.32 L870.59,291.16 L871.59,291.93 L872.59,292.63 L873.59,293.26 L874.59,293.84 L875.59,294.36 L876.59,294.83 L877.59,295.25 L878.59,295.62 L879.59,295.96 L880.59,296.26 L881.59,296.52 L882.59,296.75 L883.59,296.96 L884.59,297.14 L885.59,297.30 L886.59,297.44 L887.59,297.56 L888.59,297.66 L889.59,297.75 L890.59,297.83 L891.59,297.90 L892.59,297.95 L893.59,298.00 L894.59,298.04 L895.59,298.08 L896.59,298.11 L897.59,298.13 L898.59,298.15 L899.59,298.17" stroke="#2ca02c" stroke-linecap="butt"/>
<path d="M276.59,298.07 L277.59,298.06 L278.59,298.06 L279.59,298.06 L280.59,298.06 L281.59,298.05 L282.59,298.05 L283.59,298.05 L284.59,298.05 L285.59,298.04 L286.59,298.04 L287.59,298.04 L288.59,298.03 L289.59,298.03 L290.59,298.03 L291.59,298.03 L292.59,298.02 L293.59,298.02 L294.59,298.02 L295.59,298.01 L296.59,298.01 L297.59,298.01 L298.59,298.00 L299.59,298.00 L300.59,298.00 L301.59,297.99 L302.59,297.99 L303.59,297.99 L304.59,297.98 L305.59,297.98 L306.59,297.98 L307.59,297.97 L308.59,297.97 L309.59,297.97 L310.59,297.96 L311.59,297.96 L312.59,297.95 L313.59,297.95 L314.59,297.95 L315.59,297.94 L316.59,297.94 L317.59,297.93 L318.59,297.93 L319.59,297.92 L320.59,297.92 L321.59,297.92 L322.59,297.91 L323.59,297.91 L324.59,297.90 L325.59,297.90 L326.59,297.89 L327.59,297.89 L328.59,297.88 L329.59,297.88 L330.59,297.87 L331.59,297.87 L332.59,297.86 L333.59,297.86 L334.59,297.85 L335.59,297.85 L336.59,297.84 L337.59,297.83 L338.59,297.83 L339.59,297.82 L340.59,297.82 L341.59,297.81 L342.59,297.80 L343.59,297.80 L344.59,297.79 L345.59,297.79 L346.59,297.78 L347.59,297.77 L348.59,297.77 L349.59,297.76 L350.59,297.75 L351.59,297.75 L352.59,297.74 L353.59,297.73 L354.59,297.72 L355.59,297.72 L356.59,297.71 L357.59,297.70 L358.59,297.69 L359.59,297.69 L360.59,297.68 L361.59,297.67 L362.59,297.66 L363.59,297.65 L364.59,297.65 L365.59,297.64 L366.59,297.63 L367.59,297.62 L368.59,297.61 L369.59,297.60 L370.59,297.59 L371.59,297.58 L372.59,297.58 L373.59,297.57 L374.59,297.56 L375.59,297.55 L376.59,297.54 L377.59,297.53 L378.59,297.52 L379.59,297.51 L380.59,297.49 L381.59,297.48 L382.59,297.47 L383.59,297.46 L384.59,297.45 L385.59,297.44 L386.59,297.43 L387.59,297.42 L388.59,297.40 L389.59,297.39 L390.59,297.38 L391.59,297.37 L392.59,297.35 L393.59,297.34 L394.59,297.33 L395.59,297.32 L396.59,297.30 L397.59,297.29 L398.59,297.27 L399.59,297.26 L400.59,297.25 L401.59,297.23 L402.59,297.22 L403.59,297.20 L404.59,297.19 L405.59,297.17 L406.59,297.16 L407.59,297.14 L408.59,297.12 L409.59,297.11 L410.59,297.09 L411.59,297.07 L412.59,297.06 L413.59,297.04 L414.59,297.02 L415.59,297.00 L416.59,296.99 L417.59,296.97 L418.59,296.95 L419.59,296.93 L420.59,296.91 L421.59,296.89 L422.59,296.87 L423.59,296.85 L424.59,296.83 L425.59,296.81 L426.59,296.79 L427.59,296.77 L428.59,296.74 L429.59,296.72 L430.59,296.70 L431.59,296.68 L432.59,296.65 L433.59,296.63 L434.59,296.61 L435.59,296.58 L436.59,296.56 L437.59,296.53 L438.59,296.51 L439.59,296.48 L440.59,296.45 L441.59,296.43 L442.59,296.40 L443.59,296.37 L444.59,296.34 L445.59,296.32 L446.59,296.29 L447.59,296.26 L448.59,296.23 L449.59,296.20 L450.59,296.17 L451.59,296.14 L452.59,296.10 L453.59,296.07 L454.59,296.04 L455.59,296.01 L456.59,295.97 L457.59,295.94 L458.59,295.90 L459.59,295.87 L460.59,295.83 L461.59,295.79 L462.59,295.76 L463.59,295.72 L464.59,295.68 L465.59,295.64 L466.59,295.60 L467.59,295.56 L468.59,295.52 L469.59,295.48 L470.59,295.44 L471.59,295.40 L472.59,295.35 L473.59,295.31 L474.59,295.26 L475.59,295.22 L476.59,295.17 L477.59,295.13 L478.59,295.08 L479.59,295.03 L480.59,294.98 L481.59,294.93 L482.59,294.88 L483.59,294.83 L484.59,294.77 L485.59,294.72 L486.59,294.67 L487.59,294.61 L488.59,294.56 L489.59,294.50 L490.59,294.44 L491.59,294.38 L492.59,294.32 L493.59,294.26 L494.59,294.20 L495.59,294.14 L496.59,294.08 L497.59,294.01 L498.59,293.94 L499.59,293.88 L500.59,293.81 L501.59,293.74 L502.59,293.67 L503.59,293.60 L504.59,293.53 L505.59,293.46 L506.59,293.38 L507.59,293.31 L508.59,293.23 L509.59,293.15 L510.59,293.07 L511.59,292.99 L512.59,292.91 L513.59,292.82 L514.59,292.74 L515.59,292.65 L516.59,292.57 L517.59,292.48 L518.59,292.39 L519.59,292.29 L520.59,292.20 L521.59,292.11 L522.59,292.01 L523.59,291.91 L524.59,291.81 L525.59,291.71 L526.59,291.61 L527.59,291.50 L528.59,291.40 L529.59,291.29 L530.59,291.18 L531.59,291.07 L532.59,290.96 L533.59,290.84 L534.59,290.72 L535.59,290.61 L536.59,290.49 L537.59,290.36 L538.59,290.24 L539.59,290.11 L540.59,289.98 L541.59,289.85 L542.59,289.72 L543.59,289.58 L544.59,289.45 L545.59,289.31 L546.59,289.17 L547.59,289.02 L548.59,288.87 L549.59,288.73 L550.59,288.57 L551.59,288.42 L552.59,288.27 L553.59,288.11 L554.59,287.95 L555.59,287.78 L556.59,287.61 L557.59,287.45 L558.59,287.27 L559.59,287.10 L560.59,286.92 L561.59,286.74 L562.59,286.56 L563.59,286.37 L564.59,286.18 L565.59,285.99 L566.59,285.79 L567.59,285.60 L568.59,285.39 L569.59,285.19 L570.59,284.98 L571.59,284.77 L572.59,284.55 L573.59,284.33 L574.59,284.11 L575.59,283.89 L576.59,283.66 L577.59,283.42 L578.59,283.19 L579.59,282.95 L580.59,282.70 L581.59,282.45 L582.59,282.20 L583.59,281.95 L584.59,281.68 L585.59,281.42 L586.59,281.15 L587.59,280.88 L588.59,280.60 L589.59,280.32 L590.59,280.03 L591.59,279.74 L592.59,279.45 L593.59,279.15 L594.59,278.84 L595.59,278.53 L596.59,278.22 L597.59,277.90 L598.59,277.57 L599.59,277.24 L600.59,276.91 L601.59,276.57 L602.59,276.22 L603.59,275.87 L604.59,275.52 L605.59,275.16 L606.59,274.79 L607.59,274.42 L608.59,274.04 L609.59,273.65 L610.59,273.26 L611.59,272.87 L612.59,272.46 L613.59,272.05 L614.59,271.64 L615.59,271.22 L616.59,270.79 L617.59,270.36 L618.59,269.92 L619.59,269.47 L620.59,269.01 L621.59,268.55 L622.59,268.09 L623.59,267.61 L624.59,267.13 L625.59,266.64 L626.59,266.14 L627.59,265.64 L628.59,265.13 L629.59,264.61 L630.59,264.09 L631.59,263.55 L632.59,263.01 L633.59,262.46 L634.59,261.91 L635.59,261.34 L636.59,260.77 L637.59,260.19 L638.59,259.60 L639.59,259.00 L640.59,258.40 L641.59,257.78 L642.59,257.16 L643.59,256.53 L644.59,255.89 L645.59,255.24 L646.59,254.58 L647.59,253.92 L648.59,253.24 L649.59,252.56 L650.59,251.87 L651.59,251.16 L652.59,250.45 L653.59,249.73 L654.59,249.00 L655.59,248.26 L656.59,247.52 L657.59,246.76 L658.59,245.99 L659.59,245.22 L660.59,244.43 L661.59,243.63 L662.59,242.83 L663.59,242.02 L664.59,241.19 L665.59,240.36 L666.59,239.52 L667.59,238.66 L668.59,237.80 L669.59,236.93 L670.59,236.05 L671.59,235.16 L672.59,234.26 L673.59,233.35 L674.59,232.43 L675.59,231.50 L676.59,230.56 L677.59,229.62 L678.59,228.66 L679.59,227.70 L680.59,226.72 L681.59,225.74 L682.59,224.75 L683.59,223.75 L684.59,222.74 L685.59,221.73 L686.59,220.70 L687.59,219.67 L688.59,218.63 L689.59,217.58 L690.59,216.53 L691.59,215.47 L692.59,214.40 L693.59,213.32 L694.59,212.24 L695.59,211.15 L696.59,210.06 L697.59,208.96 L698.59,207.85 L699.59,206.74 L700.59,205.63 L701.59,204.51 L702.59,203.39 L703.59,202.26 L704.59,201.13 L705.59,200.00 L706.59,198.86 L707.59,197.73 L708.59,196.59 L709.59,195.45 L710.59,194.31 L711.59,193.17 L712.59,192.03 L713.59,190.89 L714.59,189.76 L715.59,188.62 L716.59,187.49 L717.59,186.36 L718.59,185.23 L719.59,184.11 L720.59,183.00 L721.59,181.88 L722.59,180.78 L723.59,179.68 L724.59,178.59 L725.59,177.51 L726.59,176.43 L727.59,175.37 L728.59,174.31 L729.59,173.27 L730.59,172.23 L731.59,171.21 L732.59,170.21 L733.59,169.21 L734.59,168.23 L735.59,167.27 L736.59,166.32 L737.59,165.39 L738.59,164.48 L739.59,163.59 L740.59,162.71 L741.59,161.86 L742.59,161.03 L743.59,160.22 L744.59,159.44 L745.59,158.68 L746.59,157.95 L747.59,157.24 L748.59,156.57 L749.59,155.92 L750.59,155.30 L751.59,154.71 L752.59,154.16 L753.59,153.64 L754.59,153.15 L755.59,152.71 L756.59,152.30 L757.59,151.92 L758.59,151.59 L759.59,151.30 L760.59,151.06 L761.59,150.86 L762.59,150.70 L763.59,150.59 L764.59,150.53 L765.59,150.52 L766.59,150.56 L767.59,150.65 L768.59,150.79 L769.59,150.99 L770.59,151.25 L771.59,151.56 L772.59,151.93 L773.59,152.36 L774.59,152.85 L775.59,153.40 L776.59,154.01 L777.59,154.69 L778.59,155.43 L779.59,156.23 L780.59,157.10 L781.59,158.04 L782.59,159.04 L783.59,160.11 L784.59,161.25 L785.59,162.45 L786.59,163.72 L787.59,165.05 L788.59,166.46 L789.59,167.93 L790.59,169.46 L791.59,171.06 L792.59,172.72 L793.59,174.45 L794.59,176.24 L795.59,178.09 L796.59,180.00 L797.59,181.96 L798.59,183.98 L799.59,186.06 L800.59,188.18 L801.59,190.36 L802.59,192.58 L803.59,194.84 L804.59,197.15 L805.59,199.49 L806.59,201.87 L807.59,204.27 L808.59,206.71 L809.59,209.17 L810.59,211.65 L811.59,214.15 L812.59,216.66 L813.59,219.18 L814.59,221.70 L815.59,224.23 L816.59,226.75 L817.59,229.27 L818.59,231.77 L819.59,234.26 L820.59,236.74 L821.59,239.18 L822.59,241.61 L823.59,244.00 L824.59,246.36 L825.59,248.68 L826.59,250.96 L827.59,253.20 L828.59,255.39 L829.59,257.53 L830.59,259.61 L831.59,261.65 L832.59,263.63 L833.59,265.55 L834.59,267.41 L835.59,269.21 L836.59,270.94 L837.59,272.61 L838.59,274.22 L839.59,275.76 L840.59,277.24 L841.59,278.66 L842.59,280.00 L843.59,281.29 L844.59,282.51 L845.59,283.67 L846.59,284.76 L847.59,285.80 L848.59,286.78 L849.59,287.70 L850.59,288.56 L851.59,289.37 L852.59,290.12 L853.59,290.83 L854.59,291.49 L855.59,292.10 L856.59,292.66 L857.59,293.19 L858.59,293.67 L859.59,294.12 L860.59,294.53 L861.59,294.90 L862.59,295.25 L863.59,295.56 L864.59,295.85 L865.59,296.11 L866.59,296.34 L867.59,296.56 L868.59,296.75 L869.59,296.92 L870.59,297.08 L871.59,297.22 L872.59,297.34 L873.59,297.45 L874.59,297.55 L875.59,297.64 L876.59,297.72 L877.59,297.79 L878.59,297.85 L879.59,297.91 L880.59,297.95 L881.59,297.99 L882.59,298.03 L883.59,298.06 L884.59,298.09 L885.59,298.11 L886.59,298.13 L887.59,298.15 L888.59,298.17" stroke="#d62728" stroke-linecap="butt"/>
<path d="M184.59,298.17 L185.59,298.17 L186.59,298.17 L187.59,298.17 L188.59,298.16 L189.59,298.16 L190.59,298.16 L191.59,298.16 L192.59,298.16 L193.59,298.16 L194.59,298.16 L195.59,298.16 L196.59,298.15 L197.59,298.15 L198.59,298.15 L199.59,298.15 L200.59,298.15 L201.59,298.15 L202.59,298.15 L203.59,298.14 L204.59,298.14 L205.59,298.14 L206.59,298.14 L207.59,298.14 L208.59,298.14 L209.59,298.13 L210.59,298.13 L211.59,298.13 L212.59,298.13 L213.59,298.13 L214.59,298.13 L215.59,298.12 L216.59,298.12 L217.59,298.12 L218.59,298.12 L219.59,298.12 L220.59,298.12 L221.59,298.11 L222.59,298.11 L223.59,298.11 L224.59,298.11 L225.59,298.11 L226.59,298.10 L227.59,298.10 L228.59,298.10 L229.59,298.10 L230.59,298.10 L231.59,298.09 L232.59,298.09 L233.59,298.09 L234.59,298.09 L235.59,298.08 L236.59,298.08 L237.59,298.08 L238.59,298.08 L239.59,298.07 L240.59,298.07 L241.59,298.07 L242.59,298.07 L243.59,298.06 L244.59,298.06 L245.59,298.06 L246.59,298.06 L247.59,298.05 L248.59,298.05 L249.59,298.05 L250.59,298.04 L251.59,298.04 L252.59,298.04 L253.59,298.04 L254.59,298.03 L255.59,298.03 L256.59,298.03 L257.59,298.02 L258.59,298.02 L259.59,298.02 L260.59,298.01 L261.59,298.01 L262.59,298.01 L263.59,298.00 L264.59,298.00 L265.59,297.99 L266.59,297.99 L267.59,297.99 L268.59,297.98 L269.59,297.98 L270.59,297.98 L271.59,297.97 L272.59,297.97 L273.59,297.96 L274.59,297.96 L275.59,297.96 L276.59,297.95 L277.59,297.95 L278.59,297.94 L279.59,297.94 L280.59,297.93 L281.59,297.93 L282.59,297.92 L283.59,297.92 L284.59,297.91 L285.59,297.91 L286.59,297.90 L287.59,297.90 L288.59,297.89 L289.59,297.89 L290.59,297.88 L291.59,297.88 L292.59,297.87 L293.59,297.87 L294.59,297.86 L295.59,297.86 L296.59,297.85 L297.59,297.84 L298.59,297.84 L299.59,297.83 L300.59,297.83 L301.59,297.82 L302.59,297.81 L303.59,297.81 L304.59,297.80 L305.59,297.79 L306.59,297.79 L307.59,297.78 L308.59,297.77 L309.59,297.77 L310.59,297.76 L311.59,297.75 L312.59,297.74 L313.59,297.74 L314.59,297.73 L315.59,297.72 L316.59,297.71 L317.59,297.71 L318.59,297.70 L319.59,297.69 L320.59,297.68 L321.59,297.67 L322.59,297.66 L323.59,297.66 L324.59,297.65 L325.59,297.64 L326.59,297.63 L327.59,297.62 L328.59,297.61 L329.59,297.60 L330.59,297.59 L331.59,297.58 L332.59,297.57 L333.59,297.56 L334.59,297.55 L335.59,297.54 L336.59,297.53 L337.59,297.52 L338.59,297.51 L339.59,297.50 L340.59,297.48 L341.59,297.47 L342.59,297.46 L343.59,297.45 L344.59,297.44 L345.59,297.43 L346.59,297.41 L347.59,297.40 L348.59,297.39 L349.59,297.37 L350.59,297.36 L351.59,297.35 L352.59,297.33 L353.59,297.32 L354.59,297.31 L355.59,297.29 L356.59,297.28 L357.59,297.26 L358.59,297.25 L359.59,297.23 L360.59,297.22 L361.59,297.20 L362.59,297.19 L363.59,297.17 L364.59,297.15 L365.59,297.14 L366.59,297.12 L367.59,297.10 L368.59,297.09 L369.59,297.07 L370.59,297.05 L371.59,297.03 L372.59,297.01 L373.59,296.99 L374.59,296.98 L375.59,296.96 L376.59,296.94 L377.59,296.92 L378.59,296.90 L379.59,296.88 L380.59,296.85 L381.59,296.83 L382.59,296.81 L383.59,296.79 L384.59,296.77 L385.59,296.74 L386.59,296.72 L387.59,296.70 L388.59,296.68 L389.59,296.65 L390.59,296.63 L391.59,296.60 L392.59,296.58 L393.59,296.55 L394.59,296.52 L395.59,296.50 L396.59,296.47 L397.59,296.44 L398.59,296.42 L399.59,296.39 L400.59,296.36 L401.59,296.33 L402.59,296.30 L403.59,296.27 L404.59,296.24 L405.59,296.21 L406.59,296.18 L407.59,296.15 L408.59,296.12 L409.59,296.08 L410.59,296.05 L411.59,296.02 L412.59,295.98 L413.59,295.95 L414.59,295.91 L415.59,295.87 L416.59,295.84 L417.59,295.80 L418.59,295.76 L419.59,295.73 L420.59,295.69 L421.59,295.65 L422.59,295.61 L423.59,295.57 L424.59,295.52 L425.59,295.48 L426.59,295.44 L427.59,295.40 L428.59,295.35 L429.59,295.31 L430.59,295.26 L431.59,295.22 L432.59,295.17 L433.59,295.12 L434.59,295.07 L435.59,295.02 L436.59,294.97 L437.59,294.92 L438.59,294.87 L439.59,294.82 L440.59,294.77 L441.59,294.71 L442.59,294.66 L443.59,294.60 L444.59,294.55 L445.59,294.49 L446.59,294.43 L447.59,294.37 L448.59,294.31 L449.59,294.25 L450.59,294.19 L451.59,294.13 L452.59,294.06 L453.59,294.00 L454.59,293.93 L455.59,293.86 L456.59,293.80 L457.59,293.73 L458.59,293.66 L459.59,293.59 L460.59,293.51 L461.59,293.44 L462.59,293.37 L463.59,293.29 L464.59,293.21 L465.59,293.14 L466.59,293.06 L467.59,292.98 L468.59,292.89 L469.59,292.81 L470.59,292.73 L471.59,292.64 L472.59,292.55 L473.59,292.47 L474.59,292.38 L475.59,292.28 L476.59,292.19 L477.59,292.10 L478.59,292.00 L479.59,291.91 L480.59,291.81 L481.59,291.71 L482.59,291.61 L483.59,291.50 L484.59,291.40 L485.59,291.29 L486.59,291.19 L487.59,291.08 L488.59,290.96 L489.59,290.85 L490.59,290.74 L491.59,290.62 L492.59,290.50 L493.59,290.38 L494.59,290.26 L495.59,290.14 L496.59,290.01 L497.59,289.88 L498.59,289.76 L499.59,289.62 L500.59,289.49 L501.59,289.36 L502.59,289.22 L503.59,289.08 L504.59,288.94 L505.59,288.79 L506.59,288.65 L507.59,288.50 L508.59,288.35 L509.59,288.20 L510.59,288.04 L511.59,287.88 L512.59,287.72 L513.59,287.56 L514.59,287.40 L515.59,287.23 L516.59,287.06 L517.59,286.89 L518.59,286.71 L519.59,286.54 L520.59,286.36 L521.59,286.17 L522.59,285.99 L523.59,285.80 L524.59,285.61 L525.59,285.41 L526.59,285.22 L527.59,285.02 L528.59,284.82 L529.59,284.61 L530.59,284.40 L531.59,284.19 L532.59,283.97 L533.59,283.76 L534.59,283.54 L535.59,283.31 L536.59,283.08 L537.59,282.85 L538.59,282.62 L539.59,282.38 L540.59,282.14 L541.59,281.89 L542.59,281.65 L543.59,281.39 L544.59,281.14 L545.59,280.88 L546.59,280.62 L547.59,280.35 L548.59,280.08 L549.59,279.80 L550.59,279.53 L551.59,279.24 L552.59,278.96 L553.59,278.67 L554.59,278.37 L555.59,278.08 L556.59,277.77 L557.59,277.47 L558.59,277.15 L559.59,276.84 L560.59,276.52 L561.59,276.19 L562.59,275.87 L563.59,275.53 L564.59,275.19 L565.59,274.85 L566.59,274.50 L567.59,274.15 L568.59,273.79 L569.59,273.43 L570.59,273.07 L571.59,272.69 L572.59,272.32 L573.59,271.94 L574.59,271.55 L575.59,271.16 L576.59,270.76 L577.59,270.36 L578.59,269.95 L579.59,269.54 L580.59,269.12 L581.59,268.70 L582.59,268.27 L583.59,267.83 L584.59,267.39 L585.59,266.94 L586.59,266.49 L587.59,266.04 L588.59,265.57 L589.59,265.10 L590.59,264.63 L591.59,264.15 L592.59,263.66 L593.59,263.17 L594.59,262.67 L595.59,262.16 L596.59,261.65 L597.59,261.14 L598.59,260.61 L599.59,260.08 L600.59,259.55 L601.59,259.01 L602.59,258.46 L603.59,257.90 L604.59,257.34 L605.59,256.77 L606.59,256.20 L607.59,255.62 L608.59,255.03 L609.59,254.44 L610.59,253.84 L611.59,253.23 L612.59,252.62 L613.59,252.00 L614.59,251.37 L615.59,250.74 L616.59,250.10 L617.59,249.45 L618.59,248.80 L619.59,248.14 L620.59,247.47 L621.59,246.80 L622.59,246.12 L623.59,245.43 L624.59,244.74 L625.59,244.04 L626.59,243.33 L627.59,242.62 L628.59,241.90 L629.59,241.17 L630.59,240.44 L631.59,239.70 L632.59,238.96 L633.59,238.21 L634.59,237.45 L635.59,236.68 L636.59,235.91 L637.59,235.14 L638.59,234.35 L639.59,233.57 L640.59,232.77 L641.59,231.97 L642.59,231.17 L643.59,230.35 L644.59,229.54 L645.59,228.71 L646.59,227.89 L647.59,227.05 L648.59,226.22 L649.59,225.37 L650.59,224.53 L651.59,223.67 L652.59,222.82 L653.59,221.95 L654.59,221.09 L655.59,220.22 L656.59,219.35 L657.59,218.47 L658.59,217.59 L659.59,216.71 L660.59,215.82 L661.59,214.93 L662.59,214.04 L663.59,213.14 L664.59,212.25 L665.59,211.35 L666.59,210.45 L667.59,209.55 L668.59,208.65 L669.59,207.74 L670.59,206.84 L671.59,205.94 L672.59,205.03 L673.59,204.13 L674.59,203.23 L675.59,202.33 L676.59,201.43 L677.59,200.54 L678.59,199.64 L679.59,198.75 L680.59,197.86 L681.59,196.98 L682.59,196.10 L683.59,195.22 L684.59,194.35 L685.59,193.49 L686.59,192.63 L687.59,191.77 L688.59,190.93 L689.59,190.09 L690.59,189.25 L691.59,188.43 L692.59,187.62 L693.59,186.81 L694.59,186.01 L695.59,185.23 L696.59,184.45 L697.59,183.69 L698.59,182.93 L699.59,182.19 L700.59,181.46 L701.59,180.75 L702.59,180.04 L703.59,179.35 L704.59,178.68 L705.59,178.01 L706.59,177.37 L707.59,176.74 L708.59,176.12 L709.59,175.52 L710.59,174.94 L711.59,174.38 L712.59,173.83 L713.59,173.30 L714.59,172.79 L715.59,172.30 L716.59,171.83 L717.59,171.38 L718.59,170.95 L719.59,170.54 L720.59,170.15 L721.59,169.79 L722.59,169.45 L723.59,169.14 L724.59,168.85 L725.59,168.58 L726.59,168.34 L727.59,168.13 L728.59,167.95 L729.59,167.79 L730.59,167.66 L731.59,167.57 L732.59,167.50 L733.59,167.46 L734.59,167.45 L735.59,167.48 L736.59,167.54 L737.59,167.63 L738.59,167.75 L739.59,167.91 L740.59,168.11 L741.59,168.34 L742.59,168.60 L743.59,168.90 L744.59,169.24 L745.59,169.62 L746.59,170.04 L747.59,170.49 L748.59,170.98 L749.59,171.51 L750.59,172.09 L751.59,172.70 L752.59,173.35 L753.59,174.04 L754.59,174.78 L755.59,175.55 L756.59,176.37 L757.59,177.22 L758.59,178.12 L759.59,179.06 L760.59,180.04 L761.59,181.06 L762.59,182.13 L763.59,183.23 L764.59,184.38 L765.59,185.57 L766.59,186.79 L767.59,188.06 L768.59,189.36 L769.59,190.71 L770.59,192.09 L771.59,193.51 L772.59,194.97 L773.59,196.46 L774.59,197.99 L775.59,199.56 L776.59,201.15 L777.59,202.78 L778.59,204.44 L779.59,206.13 L780.59,207.85 L781.59,209.60 L782.59,211.37 L783.59,213.17 L784.59,214.99 L785.59,216.83 L786.59,218.70 L787.59,220.57 L788.59,222.47 L789.59,224.38 L790.59,226.30 L791.59,228.23 L792.59,230.18 L793.59,232.12 L794.59,234.07 L795.59,236.03 L796.59,237.98 L797.59,239.93 L798.59,241.87 L799.59,243.81 L800.59,245.74 L801.59,247.65 L802.59,249.55 L803.59,251.44 L804.59,253.31 L805.59,255.15 L806.59,256.98 L807.59,258.77 L808.59,260.54 L809.59,262.28 L810.59,263.99 L811.59,265.67 L812.59,267.31 L813.59,268.91 L814.59,270.47 L815.59,271.99 L816.59,273.47 L817.59,274.91 L818.59,276.30 L819.59,277.65 L820.59,278.95 L821.59,280.20 L822.59,281.41 L823.59,282.56 L824.59,283.67 L825.59,284.73 L826.59,285.73 L827.59,286.69 L828.59,287.60 L829.59,288.47 L830.59,289.28 L831.59,290.05 L832.59,290.77 L833.59,291.44 L834.59,292.07 L835.59,292.66 L836.59,293.21 L837.59,293.72 L838.59,294.18 L839.59,294.61 L840.59,295.01 L841.59,295.37 L842.59,295.70 L843.59,296.00 L844.59,296.27 L845.59,296.52 L846.59,296.74 L847.59,296.93 L848.59,297.11 L849.59,297.27 L850.59,297.40 L851.59,297.53 L852.59,297.63 L853.59,297.73 L854.59,297.81 L855.59,297.88 L856.59,297.94 L857.59,297.99 L858.59,298.03 L859.59,298.07 L860.59,298.10 L861.59,298.13 L862.59,298.15 L863.59,298.17 L864.59,298.19 L865.59,298.20 L866.59,298.21 L867.59,298.22 L868.59,298.22 L869.59,298.23 L870.59,298.23 L871.59,298.24 L872.59,298.24 L873.59,298.24 L874.59,298.24 L875.59,298.25 L876.59,298.25 L877.59,298.25 L878.59,298.25 L879.59,298.25 L880.59,298.25 L881.59,298.25 L882.59,298.25 L883.59,298.25 L884.59,298.25 L885.59,298.25 L886.59,298.25 L887.59,298.25 L888.59,298.25 L889.59,298.25 L890.59,298.25 L891.59,298.25 L892.59,298.25 L893.59,298.25 L894.59,298.25 L895.59,298.25 L896.59,298.25 L897.59,298.25 L898.59,298.25 L899.59,298.25 L900.59,298.25 L901.59,298.25 L902.59,298.25 L903.59,298.25 L904.59,298.25 L905.59,298.25 L906.59,298.25 L907.59,298.25 L908.59,298.25 L909.59,298.25 L910.59,298.25 L911.59,298.25 L912.59,298.25 L913.59,298.25 L914.59,298.25 L915.59,298.25 L916.59,298.25 L917.59,298.25 L918.59,298.25 L919.59,298.25 L920.59,298.25 L921.59,298.25 L922.59,298.25 L923.59,298.25 L924.59,298.25 L925.59,298.25 L926.59,298.25 L927.59,298.25 L928.59,298.25 L929.59,298.25 L930.59,298.25 L931.59,298.25 L932.59,298.25 L933.59,298.25 L934.59,298.25 L935.59,298.25 L936.59,298.25 L937.59,298.25 L938.59,298.25 L939.59,298.25 L940.59,298.25 L941.59,298.25 L942.59,298.25 L943.59,298.25 L944.59,298.25 L945.59,298.25 L946.59,298.25 L947.59,298.25 L948.59,298.25 L949.59,298.25 L950.59,298.25 L951.59,298.25 L952.59,298.25 L953.59,298.25 L954.59,298.25 L955.59,298.25 L956.59,298.25 L957.59,298.25 L958.59,298.25 L959.59,298.25 L960.59,298.25 L960.70,298.25" stroke="#9467bd" stroke-linecap="square"/>
</g>
<g fill="none" stroke-width="5.2" stroke-linejoin="round" clip-path="url(#c2)">
<path d="M252.59,609.64 L253.59,609.64 L254.59,609.64 L255.59,609.64 L256.59,609.64 L257.59,609.64 L258.59,609.64 L259.59,609.64 L260.59,609.64 L261.59,609.64 L262.59,609.64 L263.59,609.64 L264.59,609.64 L265.59,609.64 L266.59,609.64 L267.59,609.64 L268.59,609.64 L269.59,609.64 L270.59,609.64 L271.59,609.64 L272.59,609.64 L273.59,609.64 L274.59,609.64 L275.59,609.64 L276.59,609.64 L277.59,609.64 L278.59,609.64 L279.59,609.64 L280.59,609.64 L281.59,609.64 L282.59,609.64 L283.59,609.64 L284.59,609.64 L285.59,609.64 L286.59,609.64 L287.59,609.64 L288.59,609.64 L289.59,609.64 L290.59,609.64 L291.59,609.64 L292.59,609.64 L293.59,609.64 L294.59,609.64 L295.59,609.64 L296.59,609.64 L297.59,609.64 L298.59,609.64 L299.59,609.64 L300.59,609.64 L301.59,609.64 L302.59,609.64 L303.59,609.64 L304.59,609.64 L305.59,609.64 L306.59,609.64 L307.59,609.64 L308.59,609.64 L309.59,609.63 L310.59,609.63 L311.59,609.63 L312.59,609.63 L313.59,609.63 L314.59,609.63 L315.59,609.63 L316.59,609.63 L317.59,609.63 L318.59,609.63 L319.59,609.63 L320.59,609.63 L321.59,609.63 L322.59,609.63 L323.59,609.63 L324.59,609.63 L325.59,609.63 L326.59,609.63 L327.59,609.63 L328.59,609.63 L329.59,609.63 L330.59,609.63 L331.59,609.63 L332.59,609.63 L333.59,609.63 L334.59,609.63 L335.59,609.63 L336.59,609.63 L337.59,609.63 L338.59,609.63 L339.59,609.63 L340.59,609.63 L341.59,609.63 L342.59,609.63 L343.59,609.63 L344.59,609.62 L345.59,609.62 L346.59,609.62 L347.59,609.62 L348.59,609.62 L349.59,609.62 L350.59,609.62 L351.59,609.62 L352.59,609.62 L353.59,609.62 L354.59,609.62 L355.59,609.62 L356.59,609.62 L357.59,609.62 L358.59,609.62 L359.59,609.62 L360.59,609.62 L361.59,609.62 L362.59,609.62 L363.59,609.62 L364.59,609.62 L365.59,609.62 L366.59,609.62 L367.59,609.62 L368.59,609.62 L369.59,609.61 L370.59,609.61 L371.59,609.61 L372.59,609.61 L373.59,609.61 L374.59,609.61 L375.59,609.61 L376.59,609.61 L377.59,609.61 L378.59,609.61 L379.59,609.61 L380.59,609.61 L381.59,609.61 L382.59,609.61 L383.59,609.61 L384.59,609.61 L385.59,609.61 L386.59,609.61 L387.59,609.60 L388.59,609.60 L389.59,609.60 L390.59,609.60 L391.59,609.60 L392.59,609.60 L393.59,609.60 L394.59,609.60 L395.59,609.60 L396.59,609.60 L397.59,609.60 L398.59,609.60 L399.59,609.60 L400.59,609.60 L401.59,609.60 L402.59,609.59 L403.59,609.59 L404.59,609.59 L405.59,609.59 L406.59,609.59 L407.59,609.59 L408.59,609.59 L409.59,609.59 L410.59,609.59 L411.59,609.59 L412.59,609.59 L413.59,609.59 L414.59,609.58 L415.59,609.58 L416.59,609.58 L417.59,609.58 L418.59,609.58 L419.59,609.58 L420.59,609.58 L421.59,609.58 L422.59,609.58 L423.59,609.58 L424.59,609.58 L425.59,609.57 L426.59,609.57 L427.59,609.57 L428.59,609.57 L429.59,609.57 L430.59,609.57 L431.59,609.57 L432.59,609.57 L433.59,609.57 L434.59,609.56 L435.59,609.56 L436.59,609.56 L437.59,609.56 L438.59,609.56 L439.59,609.56 L440.59,609.56 L441.59,609.56 L442.59,609.55 L443.59,609.55 L444.59,609.55 L445.59,609.55 L446.59,609.55 L447.59,609.55 L448.59,609.55 L449.59,609.54 L450.59,609.54 L451.59,609.54 L452.59,609.54 L453.59,609.54 L454.59,609.54 L455.59,609.54 L456.59,609.53 L457.59,609.53 L458.59,609.53 L459.59,609.53 L460.59,609.53 L461.59,609.53 L462.59,609.52 L463.59,609.52 L464.59,609.52 L465.59,609.52 L466.59,609.52 L467.59,609.51 L468.59,609.51 L469.59,609.51 L470.59,609.51 L471.59,609.51 L472.59,609.51 L473.59,609.50 L474.59,609.50 L475.59,609.50 L476.59,609.50 L477.59,609.49 L478.59,609.49 L479.59,609.49 L480.59,609.49 L481.59,609.49 L482.59,609.48 L483.59,609.48 L484.59,609.48 L485.59,609.48 L486.59,609.47 L487.59,609.47 L488.59,609.47 L489.59,609.47 L490.59,609.46 L491.59,609.46 L492.59,609.46 L493.59,609.45 L494.59,609.45 L495.59,609.45 L496.59,609.45 L497.59,609.44 L498.59,609.44 L499.59,609.44 L500.59,609.43 L501.59,609.43 L502.59,609.43 L503.59,609.42 L504.59,609.42 L505.59,609.42 L506.59,609.41 L507.59,609.41 L508.59,609.41 L509.59,609.40 L510.59,609.40 L511.59,609.40 L512.59,609.39 L513.59,609.39 L514.59,609.39 L515.59,609.38 L516.59,609.38 L517.59,609.37 L518.59,609.37 L519.59,609.37 L520.59,609.36 L521.59,609.36 L522.59,609.35 L523.59,609.35 L524.59,609.34 L525.59,609.34 L526.59,609.33 L527.59,609.33 L528.59,609.32 L529.59,609.32 L530.59,609.31 L531.59,609.31 L532.59,609.30 L533.59,609.30 L534.59,609.29 L535.59,609.29 L536.59,609.28 L537.59,609.28 L538.59,609.27 L539.59,609.27 L540.59,609.26 L541.59,609.25 L542.59,609.25 L543.59,609.24 L544.59,609.24 L545.59,609.23 L546.59,609.22 L547.59,609.22 L548.59,609.21 L549.59,609.20 L550.59,609.20 L551.59,609.19 L552.59,609.18 L553.59,609.17 L554.59,609.17 L555.59,609.16 L556.59,609.15 L557.59,609.14 L558.59,609.14 L559.59,609.13 L560.59,609.12 L561.59,609.11 L562.59,609.10 L563.59,609.09 L564.59,609.09 L565.59,609.08 L566.59,609.07 L567.59,609.06 L568.59,609.05 L569.59,609.04 L570.59,609.03 L571.59,609.02 L572.59,609.01 L573.59,609.00 L574.59,608.99 L575.59,608.98 L576.59,608.97 L577.59,608.96 L578.59,608.94 L579.59,608.93 L580.59,608.92 L581.59,608.91 L582.59,608.90 L583.59,608.89 L584.59,608.87 L585.59,608.86 L586.59,608.85 L587.59,608.83 L588.59,608.82 L589.59,608.81 L590.59,608.79 L591.59,608.78 L592.59,608.76 L593.59,608.75 L594.59,608.74 L595.59,608.72 L596.59,608.70 L597.59,608.69 L598.59,608.67 L599.59,608.66 L600.59,608.64 L601.59,608.62 L602.59,608.61 L603.59,608.59 L604.59,608.57 L605.59,608.55 L606.59,608.53 L607.59,608.51 L608.59,608.49 L609.59,608.48 L610.59,608.46 L611.59,608.43 L612.59,608.41 L613.59,608.39 L614.59,608.37 L615.59,608.35 L616.59,608.33 L617.59,608.30 L618.59,608.28 L619.59,608.26 L620.59,608.23 L621.59,608.21 L622.59,608.18 L623.59,608.16 L624.59,608.13 L625.59,608.10 L626.59,608.08 L627.59,608.05 L628.59,608.02 L629.59,607.99 L630.59,607.96 L631.59,607.93 L632.59,607.90 L633.59,607.87 L634.59,607.84 L635.59,607.81 L636.59,607.77 L637.59,607.74 L638.59,607.71 L639.59,607.67 L640.59,607.64 L641.59,607.60 L642.59,607.56 L643.59,607.52 L644.59,607.49 L645.59,607.45 L646.59,607.41 L647.59,607.37 L648.59,607.32 L649.59,607.28 L650.59,607.24 L651.59,607.19 L652.59,607.15 L653.59,607.10 L654.59,607.05 L655.59,607.01 L656.59,606.96 L657.59,606.91 L658.59,606.85 L659.59,606.80 L660.59,606.75 L661.59,606.69 L662.59,606.64 L663.59,606.58 L664.59,606.52 L665.59,606.46 L666.59,606.40 L667.59,606.34 L668.59,606.28 L669.59,606.21 L670.59,606.15 L671.59,606.08 L672.59,606.01 L673.59,605.94 L674.59,605.87 L675.59,605.80 L676.59,605.72 L677.59,605.65 L678.59,605.57 L679.59,605.49 L680.59,605.41 L681.59,605.32 L682.59,605.24 L683.59,605.15 L684.59,605.06 L685.59,604.97 L686.59,604.88 L687.59,604.79 L688.59,604.69 L689.59,604.59 L690.59,604.49 L691.59,604.39 L692.59,604.28 L693.59,604.17 L694.59,604.06 L695.59,603.95 L696.59,603.83 L697.59,603.71 L698.59,603.59 L699.59,603.47 L700.59,603.34 L701.59,603.21 L702.59,603.08 L703.59,602.95 L704.59,602.81 L705.59,602.67 L706.59,602.52 L707.59,602.38 L708.59,602.22 L709.59,602.07 L710.59,601.91 L711.59,601.75 L712.59,601.58 L713.59,601.41 L714.59,601.24 L715.59,601.06 L716.59,600.88 L717.59,600.69 L718.59,600.50 L719.59,600.31 L720.59,600.11 L721.59,599.90 L722.59,599.69 L723.59,599.48 L724.59,599.26 L725.59,599.04 L726.59,598.81 L727.59,598.57 L728.59,598.33 L729.59,598.08 L730.59,597.83 L731.59,597.57 L732.59,597.31 L733.59,597.03 L734.59,596.75 L735.59,596.47 L736.59,596.18 L737.59,595.88 L738.59,595.57 L739.59,595.26 L740.59,594.93 L741.59,594.60 L742.59,594.27 L743.59,593.92 L744.59,593.56 L745.59,593.20 L746.59,592.83 L747.59,592.44 L748.59,592.05 L749.59,591.65 L750.59,591.24 L751.59,590.82 L752.59,590.38 L753.59,589.94 L754.59,589.48 L755.59,589.02 L756.59,588.54 L757.59,588.05 L758.59,587.54 L759.59,587.03 L760.59,586.50 L761.59,585.95 L762.59,585.40 L763.59,584.82 L764.59,584.24 L765.59,583.64 L766.59,583.02 L767.59,582.39 L768.59,581.74 L769.59,581.07 L770.59,580.39 L771.59,579.68 L772.59,578.97 L773.59,578.23 L774.59,577.47 L775.59,576.69 L776.59,575.89 L777.59,575.07 L778.59,574.23 L779.59,573.37 L780.59,572.49 L781.59,571.58 L782.59,570.65 L783.59,569.69 L784.59,568.71 L785.59,567.70 L786.59,566.67 L787.59,565.60 L788.59,564.51 L789.59,563.40 L790.59,562.25 L791.59,561.07 L792.59,559.86 L793.59,558.62 L794.59,557.35 L795.59,556.04 L796.59,554.70 L797.59,553.33 L798.59,551.92 L799.59,550.47 L800.59,548.98 L801.59,547.46 L802.59,545.89 L803.59,544.29 L804.59,542.64 L805.59,540.96 L806.59,539.23 L807.59,537.45 L808.59,535.63 L809.59,533.77 L810.59,531.85 L811.59,529.89 L812.59,527.89 L813.59,525.83 L814.59,523.72 L815.59,521.56 L816.59,519.35 L817.59,517.09 L818.59,514.77 L819.59,512.40 L820.59,509.97 L821.59,507.49 L822.59,504.95 L823.59,502.36 L824.59,499.71 L825.59,497.00 L826.59,494.24 L827.59,491.42 L828.59,488.54 L829.59,485.60 L830.59,482.61 L831.59,479.57 L832.59,476.47 L833.59,473.31 L834.59,470.11 L835.59,466.85 L836.59,463.54 L837.59,460.18 L838.59,456.78 L839.59,453.33 L840.59,449.84 L841.59,446.32 L842.59,442.76 L843.59,439.17 L844.59,435.55 L845.59,431.91 L846.59,428.26 L847.59,424.59 L848.59,420.91 L849.59,417.23 L850.59,413.55 L851.59,409.88 L852.59,406.23 L853.59,402.60 L854.59,399.00 L855.59,395.43 L856.59,391.91 L857.59,388.44 L858.59,385.03 L859.59,381.68 L860.59,378.40 L861.59,375.20 L862.59,372.08 L863.59,369.06 L864.59,366.13 L865.59,363.30 L866.59,360.58 L867.59,357.97 L868.59,355.47 L869.59,353.09 L870.59,350.83 L871.59,348.69 L872.59,346.67 L873.59,344.78 L874.59,343.00 L875.59,341.35 L876.59,339.81 L877.59,338.39 L878.59,337.08 L879.59,335.88 L880.59,334.78 L881.59,333.79 L882.59,332.88 L883.59,332.07 L884.59,331.34 L885.59,330.69 L886.59,330.11 L887.59,329.60 L888.59,329.15 L889.59,328.76 L890.59,328.42 L891.59,328.12 L892.59,327.86 L893.59,327.64 L894.59,327.46 L895.59,327.30 L896.59,327.16 L897.59,327.05 L898.59,326.96 L899.59,326.88 L900.59,326.81 L901.59,326.76 L902.59,326.72 L903.59,326.68 L904.59,326.65 L905.59,326.63 L906.59,326.61" stroke="#1f77b4" stroke-linecap="butt"/>
<path d="M256.59,609.63 L257.59,609.63 L258.59,609.63 L259.59,609.63 L260.59,609.63 L261.59,609.63 L262.59,609.63 L263.59,609.63 L264.59,609.63 L265.59,609.63 L266.59,609.63 L267.59,609.63 L268.59,609.63 L269.59,609.63 L270.59,609.63 L271.59,609.63 L272.59,609.63 L273.59,609.63 L274.59,609.63 L275.59,609.63 L276.59,609.63 L277.59,609.62 L278.59,609.62 L279.59,609.62 L280.59,609.62 L281.59,609.62 L282.59,609.62 L283.59,609.62 L284.59,609.62 L285.59,609.62 L286.59,609.62 L287.59,609.62 L288.59,609.62 L289.59,609.62 L290.59,609.62 L291.59,609.62 L292.59,609.62 L293.59,609.62 L294.59,609.62 L295.59,609.62 L296.59,609.62 L297.59,609.61 L298.59,609.61 L299.59,609.61 L300.59,609.61 L301.59,609.61 L302.59,609.61 L303.59,609.61 L304.59,609.61 L305.59,609.61 L306.59,609.61 L307.59,609.61 L308.59,609.61 L309.59,609.61 L310.59,609.61 L311.59,609.61 L312.59,609.61 L313.59,609.60 L314.59,609.60 L315.59,609.60 L316.59,609.60 L317.59,609.60 L318.59,609.60 L319.59,609.60 L320.59,609.60 L321.59,609.60 L322.59,609.60 L323.59,609.60 L324.59,609.60 L325.59,609.60 L326.59,609.59 L327.59,609.59 L328.59,609.59 L329.59,609.59 L330.59,609.59 L331.59,609.59 L332.59,609.59 L333.59,609.59 L334.59,609.59 L335.59,609.59 L336.59,609.59 L337.59,609.58 L338.59,609.58 L339.59,609.58 L340.59,609.58 L341.59,609.58 L342.59,609.58 L343.59,609.58 L344.59,609.58 L345.59,609.58 L346.59,609.58 L347.59,609.57 L348.59,609.57 L349.59,609.57 L350.59,609.57 L351.59,609.57 L352.59,609.57 L353.59,609.57 L354.59,609.57 L355.59,609.56 L356.59,609.56 L357.59,609.56 L358.59,609.56 L359.59,609.56 L360.59,609.56 L361.59,609.56 L362.59,609.56 L363.59,609.55 L364.59,609.55 L365.59,609.55 L366.59,609.55 L367.59,609.55 L368.59,609.55 L369.59,609.55 L370.59,609.54 L371.59,609.54 L372.59,609.54 L373.59,609.54 L374.59,609.54 L375.59,609.54 L376.59,609.54 L377.59,609.53 L378.59,609.53 L379.59,609.53 L380.59,609.53 L381.59,609.53 L382.59,609.53 L383.59,609.52 L384.59,609.52 L385.59,609.52 L386.59,609.52 L387.59,609.52 L388.59,609.51 L389.59,609.51 L390.59,609.51 L391.59,609.51 L392.59,609.51 L393.59,609.50 L394.59,609.50 L395.59,609.50 L396.59,609.50 L397.59,609.50 L398.59,609.49 L399.59,609.49 L400.59,609.49 L401.59,609.49 L402.59,609.48 L403.59,609.48 L404.59,609.48 L405.59,609.48 L406.59,609.48 L407.59,609.47 L408.59,609.47 L409.59,609.47 L410.59,609.47 L411.59,609.46 L412.59,609.46 L413.59,609.46 L414.59,609.45 L415.59,609.45 L416.59,609.45 L417.59,609.45 L418.59,609.44 L419.59,609.44 L420.59,609.44 L421.59,609.43 L422.59,609.43 L423.59,609.43 L424.59,609.43 L425.59,609.42 L426.59,609.42 L427.59,609.42 L428.59,609.41 L429.59,609.41 L430.59,609.41 L431.59,609.40 L432.59,609.40 L433.59,609.39 L434.59,609.39 L435.59,609.39 L436.59,609.38 L437.59,609.38 L438.59,609.38 L439.59,609.37 L440.59,609.37 L441.59,609.36 L442.59,609.36 L443.59,609.36 L444.59,609.35 L445.59,609.35 L446.59,609.34 L447.59,609.34 L448.59,609.33 L449.59,609.33 L450.59,609.33 L451.59,609.32 L452.59,609.32 L453.59,609.31 L454.59,609.31 L455.59,609.30 L456.59,609.30 L457.59,609.29 L458.59,609.29 L459.59,609.28 L460.59,609.28 L461.59,609.27 L462.59,609.26 L463.59,609.26 L464.59,609.25 L465.59,609.25 L466.59,609.24 L467.59,609.24 L468.59,609.23 L469.59,609.22 L470.59,609.22 L471.59,609.21 L472.59,609.20 L473.59,609.20 L474.59,609.19 L475.59,609.19 L476.59,609.18 L477.59,609.17 L478.59,609.16 L479.59,609.16 L480.59,609.15 L481.59,609.14 L482.59,609.14 L483.59,609.13 L484.59,609.12 L485.59,609.11 L486.59,609.10 L487.59,609.10 L488.59,609.09 L489.59,609.08 L490.59,609.07 L491.59,609.06 L492.59,609.05 L493.59,609.05 L494.59,609.04 L495.59,609.03 L496.59,609.02 L497.59,609.01 L498.59,609.00 L499.59,608.99 L500.59,608.98 L501.59,608.97 L502.59,608.96 L503.59,608.95 L504.59,608.94 L505.59,608.93 L506.59,608.92 L507.59,608.91 L508.59,608.90 L509.59,608.88 L510.59,608.87 L511.59,608.86 L512.59,608.85 L513.59,608.84 L514.59,608.82 L515.59,608.81 L516.59,608.80 L517.59,608.79 L518.59,608.77 L519.59,608.76 L520.59,608.75 L521.59,608.73 L522.59,608.72 L523.59,608.70 L524.59,608.69 L525.59,608.68 L526.59,608.66 L527.59,608.65 L528.59,608.63 L529.59,608.61 L530.59,608.60 L531.59,608.58 L532.59,608.57 L533.59,608.55 L534.59,608.53 L535.59,608.52 L536.59,608.50 L537.59,608.48 L538.59,608.46 L539.59,608.44 L540.59,608.42 L541.59,608.41 L542.59,608.39 L543.59,608.37 L544.59,608.35 L545.59,608.33 L546.59,608.30 L547.59,608.28 L548.59,608.26 L549.59,608.24 L550.59,608.22 L551.59,608.20 L552.59,608.17 L553.59,608.15 L554.59,608.13 L555.59,608.10 L556.59,608.08 L557.59,608.05 L558.59,608.03 L559.59,608.00 L560.59,607.97 L561.59,607.95 L562.59,607.92 L563.59,607.89 L564.59,607.87 L565.59,607.84 L566.59,607.81 L567.59,607.78 L568.59,607.75 L569.59,607.72 L570.59,607.69 L571.59,607.65 L572.59,607.62 L573.59,607.59 L574.59,607.56 L575.59,607.52 L576.59,607.49 L577.59,607.45 L578.59,607.42 L579.59,607.38 L580.59,607.34 L581.59,607.30 L582.59,607.27 L583.59,607.23 L584.59,607.19 L585.59,607.15 L586.59,607.11 L587.59,607.06 L588.59,607.02 L589.59,606.98 L590.59,606.93 L591.59,606.89 L592.59,606.84 L593.59,606.80 L594.59,606.75 L595.59,606.70 L596.59,606.65 L597.59,606.60 L598.59,606.55 L599.59,606.50 L600.59,606.44 L601.59,606.39 L602.59,606.34 L603.59,606.28 L604.59,606.22 L605.59,606.17 L606.59,606.11 L607.59,606.05 L608.59,605.99 L609.59,605.92 L610.59,605.86 L611.59,605.80 L612.59,605.73 L613.59,605.66 L614.59,605.59 L615.59,605.53 L616.59,605.45 L617.59,605.38 L618.59,605.31 L619.59,605.23 L620.59,605.16 L621.59,605.08 L622.59,605.00 L623.59,604.92 L624.59,604.84 L625.59,604.76 L626.59,604.67 L627.59,604.58 L628.59,604.50 L629.59,604.41 L630.59,604.31 L631.59,604.22 L632.59,604.13 L633.59,604.03 L634.59,603.93 L635.59,603.83 L636.59,603.73 L637.59,603.62 L638.59,603.52 L639.59,603.41 L640.59,603.30 L641.59,603.18 L642.59,603.07 L643.59,602.95 L644.59,602.83 L645.59,602.71 L646.59,602.59 L647.59,602.46 L648.59,602.33 L649.59,602.20 L650.59,602.06 L651.59,601.93 L652.59,601.79 L653.59,601.65 L654.59,601.50 L655.59,601.35 L656.59,601.20 L657.59,601.05 L658.59,600.89 L659.59,600.74 L660.59,600.57 L661.59,600.41 L662.59,600.24 L663.59,600.07 L664.59,599.89 L665.59,599.71 L666.59,599.53 L667.59,599.34 L668.59,599.15 L669.59,598.96 L670.59,598.76 L671.59,598.56 L672.59,598.35 L673.59,598.14 L674.59,597.93 L675.59,597.71 L676.59,597.49 L677.59,597.26 L678.59,597.03 L679.59,596.79 L680.59,596.55 L681.59,596.31 L682.59,596.06 L683.59,595.80 L684.59,595.54 L685.59,595.27 L686.59,595.00 L687.59,594.73 L688.59,594.44 L689.59,594.16 L690.59,593.86 L691.59,593.56 L692.59,593.26 L693.59,592.94 L694.59,592.62 L695.59,592.30 L696.59,591.97 L697.59,591.63 L698.59,591.28 L699.59,590.93 L700.59,590.57 L701.59,590.20 L702.59,589.83 L703.59,589.45 L704.59,589.06 L705.59,588.66 L706.59,588.25 L707.59,587.84 L708.59,587.41 L709.59,586.98 L710.59,586.54 L711.59,586.09 L712.59,585.63 L713.59,585.16 L714.59,584.69 L715.59,584.20 L716.59,583.70 L717.59,583.19 L718.59,582.67 L719.59,582.15 L720.59,581.61 L721.59,581.05 L722.59,580.49 L723.59,579.92 L724.59,579.33 L725.59,578.73 L726.59,578.12 L727.59,577.50 L728.59,576.86 L729.59,576.22 L730.59,575.55 L731.59,574.88 L732.59,574.19 L733.59,573.48 L734.59,572.77 L735.59,572.03 L736.59,571.29 L737.59,570.52 L738.59,569.74 L739.59,568.95 L740.59,568.14 L741.59,567.31 L742.59,566.47 L743.59,565.61 L744.59,564.73 L745.59,563.83 L746.59,562.92 L747.59,561.98 L748.59,561.03 L749.59,560.06 L750.59,559.07 L751.59,558.06 L752.59,557.03 L753.59,555.98 L754.59,554.91 L755.59,553.81 L756.59,552.70 L757.59,551.56 L758.59,550.41 L759.59,549.22 L760.59,548.02 L761.59,546.79 L762.59,545.54 L763.59,544.27 L764.59,542.97 L765.59,541.64 L766.59,540.29 L767.59,538.92 L768.59,537.52 L769.59,536.09 L770.59,534.64 L771.59,533.15 L772.59,531.65 L773.59,530.11 L774.59,528.55 L775.59,526.96 L776.59,525.34 L777.59,523.69 L778.59,522.02 L779.59,520.31 L780.59,518.58 L781.59,516.81 L782.59,515.02 L783.59,513.20 L784.59,511.34 L785.59,509.46 L786.59,507.55 L787.59,505.60 L788.59,503.63 L789.59,501.62 L790.59,499.59 L791.59,497.52 L792.59,495.43 L793.59,493.30 L794.59,491.15 L795.59,488.96 L796.59,486.74 L797.59,484.50 L798.59,482.22 L799.59,479.92 L800.59,477.59 L801.59,475.23 L802.59,472.84 L803.59,470.42 L804.59,467.98 L805.59,465.51 L806.59,463.02 L807.59,460.50 L808.59,457.96 L809.59,455.39 L810.59,452.81 L811.59,450.20 L812.59,447.57 L813.59,444.93 L814.59,442.26 L815.59,439.58 L816.59,436.89 L817.59,434.18 L818.59,431.47 L819.59,428.74 L820.59,426.01 L821.59,423.27 L822.59,420.52 L823.59,417.78 L824.59,415.03 L825.59,412.29 L826.59,409.55 L827.59,406.83 L828.59,404.11 L829.59,401.40 L830.59,398.71 L831.59,396.04 L832.59,393.39 L833.59,390.77 L834.59,388.17 L835.59,385.60 L836.59,383.06 L837.59,380.56 L838.59,378.10 L839.59,375.68 L840.59,373.30 L841.59,370.97 L842.59,368.70 L843.59,366.47 L844.59,364.30 L845.59,362.19 L846.59,360.13 L847.59,358.14 L848.59,356.21 L849.59,354.35 L850.59,352.55 L851.59,350.82 L852.59,349.16 L853.59,347.57 L854.59,346.05 L855.59,344.60 L856.59,343.22 L857.59,341.91 L858.59,340.67 L859.59,339.50 L860.59,338.40 L861.59,337.36 L862.59,336.39 L863.59,335.49 L864.59,334.64 L865.59,333.86 L866.59,333.13 L867.59,332.46 L868.59,331.85 L869.59,331.28 L870.59,330.76 L871.59,330.29 L872.59,329.86 L873.59,329.47 L874.59,329.12 L875.59,328.81 L876.59,328.52 L877.59,328.27 L878.59,328.04 L879.59,327.84 L880.59,327.67 L881.59,327.51 L882.59,327.37 L883.59,327.25 L884.59,327.15 L885.59,327.06 L886.59,326.98 L887.59,326.91 L888.59,326.85 L889.59,326.80 L890.59,326.76 L891.59,326.72 L892.59,326.69 L893.59,326.67 L894.59,326.65 L895.59,326.63" stroke="#ff7f0e" stroke-linecap="butt"/>
<path d="M266.59,609.60 L267.59,609.60 L268.59,609.60 L269.59,609.60 L270.59,609.60 L271.59,609.60 L272.59,609.60 L273.59,609.60 L274.59,609.59 L275.59,609.59 L276.59,609.59 L277.59,609.59 L278.59,609.59 L279.59,609.59 L280.59,609.59 L281.59,609.59 L282.59,609.59 L283.59,609.58 L284.59,609.58 L285.59,609.58 L286.59,609.58 L287.59,609.58 L288.59,609.58 L289.59,609.58 L290.59,609.58 L291.59,609.58 L292.59,609.57 L293.59,609.57 L294.59,609.57 L295.59,609.57 L296.59,609.57 L297.59,609.57 L298.59,609.57 L299.59,609.56 L300.59,609.56 L301.59,609.56 L302.59,609.56 L303.59,609.56 L304.59,609.56 L305.59,609.56 L306.59,609.55 L307.59,609.55 L308.59,609.55 L309.59,609.55 L310.59,609.55 L311.59,609.55 L312.59,609.54 L313.59,609.54 L314.59,609.54 L315.59,609.54 L316.59,609.54 L317.59,609.54 L318.59,609.53 L319.59,609.53 L320.59,609.53 L321.59,609.53 L322.59,609.53 L323.59,609.52 L324.59,609.52 L325.59,609.52 L326.59,609.52 L327.59,609.52 L328.59,609.51 L329.59,609.51 L330.59,609.51 L331.59,609.51 L332.59,609.51 L333.59,609.50 L334.59,609.50 L335.59,609.50 L336.59,609.50 L337.59,609.49 L338.59,609.49 L339.59,609.49 L340.59,609.49 L341.59,609.49 L342.59,609.48 L343.59,609.48 L344.59,609.48 L345.59,609.47 L346.59,609.47 L347.59,609.47 L348.59,609.47 L349.59,609.46 L350.59,609.46 L351.59,609.46 L352.59,609.46 L353.59,609.45 L354.59,609.45 L355.59,609.45 L356.59,609.44 L357.59,609.44 L358.59,609.44 L359.59,609.43 L360.59,609.43 L361.59,609.43 L362.59,609.42 L363.59,609.42 L364.59,609.42 L365.59,609.41 L366.59,609.41 L367.59,609.41 L368.59,609.40 L369.59,609.40 L370.59,609.40 L371.59,609.39 L372.59,609.39 L373.59,609.39 L374.59,609.38 L375.59,609.38 L376.59,609.37 L377.59,609.37 L378.59,609.37 L379.59,609.36 L380.59,609.36 L381.59,609.35 L382.59,609.35 L383.59,609.34 L384.59,609.34 L385.59,609.34 L386.59,609.33 L387.59,609.33 L388.59,609.32 L389.59,609.32 L390.59,609.31 L391.59,609.31 L392.59,609.30 L393.59,609.30 L394.59,609.29 L395.59,609.29 L396.59,609.28 L397.59,609.28 L398.59,609.27 L399.59,609.27 L400.59,609.26 L401.59,609.25 L402.59,609.25 L403.59,609.24 L404.59,609.24 L405.59,609.23 L406.59,609.22 L407.59,609.22 L408.59,609.21 L409.59,609.21 L410.59,609.20 L411.59,609.19 L412.59,609.19 L413.59,609.18 L414.59,609.17 L415.59,609.17 L416.59,609.16 L417.59,609.15 L418.59,609.14 L419.59,609.14 L420.59,609.13 L421.59,609.12 L422.59,609.11 L423.59,609.11 L424.59,609.10 L425.59,609.09 L426.59,609.08 L427.59,609.07 L428.59,609.07 L429.59,609.06 L430.59,609.05 L431.59,609.04 L432.59,609.03 L433.59,609.02 L434.59,609.01 L435.59,609.00 L436.59,608.99 L437.59,608.98 L438.59,608.97 L439.59,608.96 L440.59,608.95 L441.59,608.94 L442.59,608.93 L443.59,608.92 L444.59,608.91 L445.59,608.90 L446.59,608.89 L447.59,608.88 L448.59,608.87 L449.59,608.86 L450.59,608.85 L451.59,608.83 L452.59,608.82 L453.59,608.81 L454.59,608.80 L455.59,608.78 L456.59,608.77 L457.59,608.76 L458.59,608.75 L459.59,608.73 L460.59,608.72 L461.59,608.70 L462.59,608.69 L463.59,608.68 L464.59,608.66 L465.59,608.65 L466.59,608.63 L467.59,608.62 L468.59,608.60 L469.59,608.59 L470.59,608.57 L471.59,608.56 L472.59,608.54 L473.59,608.52 L474.59,608.51 L475.59,608.49 L476.59,608.47 L477.59,608.45 L478.59,608.44 L479.59,608.42 L480.59,608.40 L481.59,608.38 L482.59,608.36 L483.59,608.34 L484.59,608.32 L485.59,608.30 L486.59,608.28 L487.59,608.26 L488.59,608.24 L489.59,608.22 L490.59,608.20 L491.59,608.18 L492.59,608.16 L493.59,608.13 L494.59,608.11 L495.59,608.09 L496.59,608.06 L497.59,608.04 L498.59,608.02 L499.59,607.99 L500.59,607.97 L501.59,607.94 L502.59,607.91 L503.59,607.89 L504.59,607.86 L505.59,607.83 L506.59,607.81 L507.59,607.78 L508.59,607.75 L509.59,607.72 L510.59,607.69 L511.59,607.66 L512.59,607.63 L513.59,607.60 L514.59,607.57 L515.59,607.54 L516.59,607.50 L517.59,607.47 L518.59,607.44 L519.59,607.40 L520.59,607.37 L521.59,607.34 L522.59,607.30 L523.59,607.26 L524.59,607.23 L525.59,607.19 L526.59,607.15 L527.59,607.11 L528.59,607.07 L529.59,607.03 L530.59,606.99 L531.59,606.95 L532.59,606.91 L533.59,606.87 L534.59,606.82 L535.59,606.78 L536.59,606.74 L537.59,606.69 L538.59,606.64 L539.59,606.60 L540.59,606.55 L541.59,606.50 L542.59,606.45 L543.59,606.40 L544.59,606.35 L545.59,606.30 L546.59,606.25 L547.59,606.19 L548.59,606.14 L549.59,606.08 L550.59,606.03 L551.59,605.97 L552.59,605.91 L553.59,605.85 L554.59,605.79 L555.59,605.73 L556.59,605.67 L557.59,605.61 L558.59,605.54 L559.59,605.48 L560.59,605.41 L561.59,605.34 L562.59,605.27 L563.59,605.20 L564.59,605.13 L565.59,605.06 L566.59,604.99 L567.59,604.91 L568.59,604.84 L569.59,604.76 L570.59,604.68 L571.59,604.60 L572.59,604.52 L573.59,604.44 L574.59,604.36 L575.59,604.27 L576.59,604.18 L577.59,604.10 L578.59,604.01 L579.59,603.91 L580.59,603.82 L581.59,603.73 L582.59,603.63 L583.59,603.53 L584.59,603.44 L585.59,603.33 L586.59,603.23 L587.59,603.13 L588.59,603.02 L589.59,602.91 L590.59,602.80 L591.59,602.69 L592.59,602.58 L593.59,602.46 L594.59,602.34 L595.59,602.22 L596.59,602.10 L597.59,601.98 L598.59,601.85 L599.59,601.72 L600.59,601.59 L601.59,601.46 L602.59,601.33 L603.59,601.19 L604.59,601.05 L605.59,600.91 L606.59,600.76 L607.59,600.62 L608.59,600.47 L609.59,600.31 L610.59,600.16 L611.59,600.00 L612.59,599.84 L613.59,599.68 L614.59,599.51 L615.59,599.34 L616.59,599.17 L617.59,599.00 L618.59,598.82 L619.59,598.64 L620.59,598.45 L621.59,598.27 L622.59,598.08 L623.59,597.88 L624.59,597.68 L625.59,597.48 L626.59,597.28 L627.59,597.07 L628.59,596.86 L629.59,596.64 L630.59,596.42 L631.59,596.20 L632.59,595.97 L633.59,595.74 L634.59,595.51 L635.59,595.27 L636.59,595.03 L637.59,594.78 L638.59,594.53 L639.59,594.27 L640.59,594.01 L641.59,593.74 L642.59,593.47 L643.59,593.20 L644.59,592.92 L645.59,592.63 L646.59,592.34 L647.59,592.05 L648.59,591.75 L649.59,591.44 L650.59,591.13 L651.59,590.82 L652.59,590.49 L653.59,590.17 L654.59,589.83 L655.59,589.49 L656.59,589.15 L657.59,588.80 L658.59,588.44 L659.59,588.07 L660.59,587.70 L661.59,587.33 L662.59,586.94 L663.59,586.55 L664.59,586.16 L665.59,585.75 L666.59,585.34 L667.59,584.92 L668.59,584.50 L669.59,584.06 L670.59,583.62 L671.59,583.17 L672.59,582.72 L673.59,582.25 L674.59,581.78 L675.59,581.30 L676.59,580.81 L677.59,580.31 L678.59,579.80 L679.59,579.29 L680.59,578.76 L681.59,578.23 L682.59,577.68 L683.59,577.13 L684.59,576.57 L685.59,576.00 L686.59,575.41 L687.59,574.82 L688.59,574.22 L689.59,573.61 L690.59,572.98 L691.59,572.35 L692.59,571.70 L693.59,571.05 L694.59,570.38 L695.59,569.70 L696.59,569.01 L697.59,568.31 L698.59,567.59 L699.59,566.86 L700.59,566.12 L701.59,565.37 L702.59,564.61 L703.59,563.83 L704.59,563.04 L705.59,562.24 L706.59,561.42 L707.59,560.59 L708.59,559.74 L709.59,558.89 L710.59,558.01 L711.59,557.12 L712.59,556.22 L713.59,555.31 L714.59,554.37 L715.59,553.43 L716.59,552.46 L717.59,551.49 L718.59,550.49 L719.59,549.48 L720.59,548.45 L721.59,547.41 L722.59,546.35 L723.59,545.28 L724.59,544.18 L725.59,543.07 L726.59,541.95 L727.59,540.80 L728.59,539.64 L729.59,538.46 L730.59,537.26 L731.59,536.04 L732.59,534.81 L733.59,533.55 L734.59,532.28 L735.59,530.99 L736.59,529.68 L737.59,528.35 L738.59,527.00 L739.59,525.63 L740.59,524.24 L741.59,522.84 L742.59,521.41 L743.59,519.96 L744.59,518.50 L745.59,517.01 L746.59,515.50 L747.59,513.98 L748.59,512.43 L749.59,510.86 L750.59,509.28 L751.59,507.67 L752.59,506.04 L753.59,504.39 L754.59,502.72 L755.59,501.03 L756.59,499.33 L757.59,497.60 L758.59,495.85 L759.59,494.08 L760.59,492.29 L761.59,490.48 L762.59,488.65 L763.59,486.81 L764.59,484.94 L765.59,483.06 L766.59,481.15 L767.59,479.23 L768.59,477.29 L769.59,475.33 L770.59,473.35 L771.59,471.36 L772.59,469.35 L773.59,467.32 L774.59,465.28 L775.59,463.22 L776.59,461.15 L777.59,459.06 L778.59,456.95 L779.59,454.84 L780.59,452.71 L781.59,450.57 L782.59,448.41 L783.59,446.25 L784.59,444.07 L785.59,441.89 L786.59,439.69 L787.59,437.49 L788.59,435.28 L789.59,433.07 L790.59,430.84 L791.59,428.62 L792.59,426.39 L793.59,424.16 L794.59,421.93 L795.59,419.69 L796.59,417.46 L797.59,415.23 L798.59,413.00 L799.59,410.78 L800.59,408.56 L801.59,406.35 L802.59,404.15 L803.59,401.96 L804.59,399.78 L805.59,397.61 L806.59,395.46 L807.59,393.32 L808.59,391.19 L809.59,389.09 L810.59,387.00 L811.59,384.94 L812.59,382.90 L813.59,380.88 L814.59,378.89 L815.59,376.92 L816.59,374.99 L817.59,373.08 L818.59,371.20 L819.59,369.36 L820.59,367.55 L821.59,365.78 L822.59,364.04 L823.59,362.34 L824.59,360.67 L825.59,359.05 L826.59,357.47 L827.59,355.93 L828.59,354.43 L829.59,352.97 L830.59,351.56 L831.59,350.19 L832.59,348.87 L833.59,347.59 L834.59,346.35 L835.59,345.17 L836.59,344.02 L837.59,342.93 L838.59,341.88 L839.59,340.87 L840.59,339.91 L841.59,338.99 L842.59,338.12 L843.59,337.29 L844.59,336.50 L845.59,335.75 L846.59,335.05 L847.59,334.38 L848.59,333.76 L849.59,333.17 L850.59,332.62 L851.59,332.10 L852.59,331.62 L853.59,331.17 L854.59,330.75 L855.59,330.36 L856.59,330.00 L857.59,329.67 L858.59,329.36 L859.59,329.08 L860.59,328.82 L861.59,328.59 L862.59,328.37 L863.59,328.17 L864.59,328.00 L865.59,327.83 L866.59,327.69 L867.59,327.55 L868.59,327.43 L869.59,327.33 L870.59,327.23 L871.59,327.15 L872.59,327.07 L873.59,327.00 L874.59,326.94 L875.59,326.89 L876.59,326.84 L877.59,326.80 L878.59,326.77 L879.59,326.74 L880.59,326.71 L881.59,326.69 L882.59,326.67 L883.59,326.65 L884.59,326.63" stroke="#2ca02c" stroke-linecap="butt"/>
<path d="M302.59,609.45 L303.59,609.45 L304.59,609.44 L305.59,609.44 L306.59,609.43 L307.59,609.43 L308.59,609.43 L309.59,609.42 L310.59,609.42 L311.59,609.42 L312.59,609.41 L313.59,609.41 L314.59,609.40 L315.59,609.40 L316.59,609.40 L317.59,609.39 L318.59,609.39 L319.59,609.38 L320.59,609.38 L321.59,609.38 L322.59,609.37 L323.59,609.37 L324.59,609.36 L325.59,609.36 L326.59,609.35 L327.59,609.35 L328.59,609.34 L329.59,609.34 L330.59,609.34 L331.59,609.33 L332.59,609.33 L333.59,609.32 L334.59,609.32 L335.59,609.31 L336.59,609.30 L337.59,609.30 L338.59,609.29 L339.59,609.29 L340.59,609.28 L341.59,609.28 L342.59,609.27 L343.59,609.27 L344.59,609.26 L345.59,609.25 L346.59,609.25 L347.59,609.24 L348.59,609.24 L349.59,609.23 L350.59,609.22 L351.59,609.22 L352.59,609.21 L353.59,609.20 L354.59,609.20 L355.59,609.19 L356.59,609.18 L357.59,609.18 L358.59,609.17 L359.59,609.16 L360.59,609.15 L361.59,609.15 L362.59,609.14 L363.59,609.13 L364.59,609.12 L365.59,609.12 L366.59,609.11 L367.59,609.10 L368.59,609.09 L369.59,609.08 L370.59,609.08 L371.59,609.07 L372.59,609.06 L373.59,609.05 L374.59,609.04 L375.59,609.03 L376.59,609.02 L377.59,609.01 L378.59,609.00 L379.59,609.00 L380.59,608.99 L381.59,608.98 L382.59,608.97 L383.59,608.96 L384.59,608.95 L385.59,608.94 L386.59,608.92 L387.59,608.91 L388.59,608.90 L389.59,608.89 L390.59,608.88 L391.59,608.87 L392.59,608.86 L393.59,608.85 L394.59,608.84 L395.59,608.82 L396.59,608.81 L397.59,608.80 L398.59,608.79 L399.59,608.77 L400.59,608.76 L401.59,608.75 L402.59,608.73 L403.59,608.72 L404.59,608.71 L405.59,608.69 L406.59,608.68 L407.59,608.67 L408.59,608.65 L409.59,608.64 L410.59,608.62 L411.59,608.61 L412.59,608.59 L413.59,608.58 L414.59,608.56 L415.59,608.54 L416.59,608.53 L417.59,608.51 L418.59,608.50 L419.59,608.48 L420.59,608.46 L421.59,608.44 L422.59,608.43 L423.59,608.41 L424.59,608.39 L425.59,608.37 L426.59,608.35 L427.59,608.33 L428.59,608.32 L429.59,608.30 L430.59,608.28 L431.59,608.26 L432.59,608.24 L433.59,608.21 L434.59,608.19 L435.59,608.17 L436.59,608.15 L437.59,608.13 L438.59,608.11 L439.59,608.08 L440.59,608.06 L441.59,608.04 L442.59,608.01 L443.59,607.99 L444.59,607.97 L445.59,607.94 L446.59,607.92 L447.59,607.89 L448.59,607.86 L449.59,607.84 L450.59,607.81 L451.59,607.79 L452.59,607.76 L453.59,607.73 L454.59,607.70 L455.59,607.67 L456.59,607.64 L457.59,607.61 L458.59,607.58 L459.59,607.55 L460.59,607.52 L461.59,607.49 L462.59,607.46 L463.59,607.43 L464.59,607.39 L465.59,607.36 L466.59,607.33 L467.59,607.29 L468.59,607.26 L469.59,607.22 L470.59,607.19 L471.59,607.15 L472.59,607.11 L473.59,607.08 L474.59,607.04 L475.59,607.00 L476.59,606.96 L477.59,606.92 L478.59,606.88 L479.59,606.84 L480.59,606.80 L481.59,606.75 L482.59,606.71 L483.59,606.67 L484.59,606.62 L485.59,606.58 L486.59,606.53 L487.59,606.49 L488.59,606.44 L489.59,606.39 L490.59,606.34 L491.59,606.29 L492.59,606.24 L493.59,606.19 L494.59,606.14 L495.59,606.09 L496.59,606.03 L497.59,605.98 L498.59,605.93 L499.59,605.87 L500.59,605.81 L501.59,605.76 L502.59,605.70 L503.59,605.64 L504.59,605.58 L505.59,605.52 L506.59,605.45 L507.59,605.39 L508.59,605.33 L509.59,605.26 L510.59,605.20 L511.59,605.13 L512.59,605.06 L513.59,604.99 L514.59,604.92 L515.59,604.85 L516.59,604.78 L517.59,604.70 L518.59,604.63 L519.59,604.55 L520.59,604.48 L521.59,604.40 L522.59,604.32 L523.59,604.24 L524.59,604.15 L525.59,604.07 L526.59,603.99 L527.59,603.90 L528.59,603.81 L529.59,603.72 L530.59,603.63 L531.59,603.54 L532.59,603.45 L533.59,603.35 L534.59,603.26 L535.59,603.16 L536.59,603.06 L537.59,602.96 L538.59,602.86 L539.59,602.75 L540.59,602.65 L541.59,602.54 L542.59,602.43 L543.59,602.32 L544.59,602.21 L545.59,602.10 L546.59,601.98 L547.59,601.86 L548.59,601.74 L549.59,601.62 L550.59,601.50 L551.59,601.37 L552.59,601.24 L553.59,601.12 L554.59,600.98 L555.59,600.85 L556.59,600.71 L557.59,600.58 L558.59,600.44 L559.59,600.29 L560.59,600.15 L561.59,600.00 L562.59,599.85 L563.59,599.70 L564.59,599.55 L565.59,599.39 L566.59,599.23 L567.59,599.07 L568.59,598.91 L569.59,598.74 L570.59,598.57 L571.59,598.40 L572.59,598.22 L573.59,598.05 L574.59,597.87 L575.59,597.68 L576.59,597.50 L577.59,597.31 L578.59,597.12 L579.59,596.92 L580.59,596.72 L581.59,596.52 L582.59,596.31 L583.59,596.11 L584.59,595.90 L585.59,595.68 L586.59,595.46 L587.59,595.24 L588.59,595.02 L589.59,594.79 L590.59,594.55 L591.59,594.32 L592.59,594.08 L593.59,593.83 L594.59,593.59 L595.59,593.33 L596.59,593.08 L597.59,592.82 L598.59,592.56 L599.59,592.29 L600.59,592.02 L601.59,591.74 L602.59,591.46 L603.59,591.17 L604.59,590.88 L605.59,590.59 L606.59,590.29 L607.59,589.98 L608.59,589.67 L609.59,589.36 L610.59,589.04 L611.59,588.72 L612.59,588.39 L613.59,588.05 L614.59,587.71 L615.59,587.37 L616.59,587.02 L617.59,586.66 L618.59,586.30 L619.59,585.93 L620.59,585.56 L621.59,585.18 L622.59,584.80 L623.59,584.41 L624.59,584.01 L625.59,583.61 L626.59,583.20 L627.59,582.78 L628.59,582.36 L629.59,581.93 L630.59,581.49 L631.59,581.05 L632.59,580.60 L633.59,580.14 L634.59,579.68 L635.59,579.21 L636.59,578.73 L637.59,578.24 L638.59,577.75 L639.59,577.25 L640.59,576.74 L641.59,576.22 L642.59,575.70 L643.59,575.17 L644.59,574.62 L645.59,574.08 L646.59,573.52 L647.59,572.95 L648.59,572.38 L649.59,571.79 L650.59,571.20 L651.59,570.60 L652.59,569.99 L653.59,569.37 L654.59,568.74 L655.59,568.11 L656.59,567.46 L657.59,566.80 L658.59,566.13 L659.59,565.46 L660.59,564.77 L661.59,564.07 L662.59,563.36 L663.59,562.65 L664.59,561.92 L665.59,561.18 L666.59,560.43 L667.59,559.67 L668.59,558.90 L669.59,558.11 L670.59,557.32 L671.59,556.51 L672.59,555.69 L673.59,554.87 L674.59,554.03 L675.59,553.17 L676.59,552.31 L677.59,551.43 L678.59,550.54 L679.59,549.64 L680.59,548.73 L681.59,547.80 L682.59,546.86 L683.59,545.91 L684.59,544.95 L685.59,543.97 L686.59,542.98 L687.59,541.98 L688.59,540.96 L689.59,539.93 L690.59,538.88 L691.59,537.83 L692.59,536.75 L693.59,535.67 L694.59,534.57 L695.59,533.46 L696.59,532.33 L697.59,531.19 L698.59,530.03 L699.59,528.87 L700.59,527.68 L701.59,526.48 L702.59,525.27 L703.59,524.04 L704.59,522.80 L705.59,521.55 L706.59,520.28 L707.59,518.99 L708.59,517.69 L709.59,516.38 L710.59,515.05 L711.59,513.71 L712.59,512.35 L713.59,510.97 L714.59,509.59 L715.59,508.18 L716.59,506.77 L717.59,505.34 L718.59,503.89 L719.59,502.43 L720.59,500.96 L721.59,499.47 L722.59,497.97 L723.59,496.45 L724.59,494.92 L725.59,493.37 L726.59,491.81 L727.59,490.24 L728.59,488.66 L729.59,487.06 L730.59,485.44 L731.59,483.82 L732.59,482.18 L733.59,480.53 L734.59,478.86 L735.59,477.19 L736.59,475.50 L737.59,473.80 L738.59,472.08 L739.59,470.36 L740.59,468.62 L741.59,466.88 L742.59,465.12 L743.59,463.35 L744.59,461.57 L745.59,459.78 L746.59,457.99 L747.59,456.18 L748.59,454.36 L749.59,452.54 L750.59,450.71 L751.59,448.87 L752.59,447.02 L753.59,445.17 L754.59,443.30 L755.59,441.44 L756.59,439.57 L757.59,437.69 L758.59,435.81 L759.59,433.92 L760.59,432.04 L761.59,430.14 L762.59,428.25 L763.59,426.36 L764.59,424.46 L765.59,422.56 L766.59,420.67 L767.59,418.77 L768.59,416.88 L769.59,414.99 L770.59,413.10 L771.59,411.21 L772.59,409.33 L773.59,407.46 L774.59,405.59 L775.59,403.73 L776.59,401.87 L777.59,400.02 L778.59,398.19 L779.59,396.36 L780.59,394.54 L781.59,392.74 L782.59,390.95 L783.59,389.17 L784.59,387.40 L785.59,385.65 L786.59,383.92 L787.59,382.20 L788.59,380.51 L789.59,378.83 L790.59,377.16 L791.59,375.52 L792.59,373.90 L793.59,372.31 L794.59,370.73 L795.59,369.18 L796.59,367.65 L797.59,366.15 L798.59,364.67 L799.59,363.22 L800.59,361.80 L801.59,360.40 L802.59,359.04 L803.59,357.70 L804.59,356.39 L805.59,355.11 L806.59,353.86 L807.59,352.64 L808.59,351.46 L809.59,350.30 L810.59,349.18 L811.59,348.09 L812.59,347.03 L813.59,346.00 L814.59,345.00 L815.59,344.04 L816.59,343.11 L817.59,342.21 L818.59,341.35 L819.59,340.51 L820.59,339.71 L821.59,338.94 L822.59,338.20 L823.59,337.50 L824.59,336.82 L825.59,336.17 L826.59,335.55 L827.59,334.96 L828.59,334.40 L829.59,333.87 L830.59,333.36 L831.59,332.88 L832.59,332.43 L833.59,332.00 L834.59,331.60 L835.59,331.22 L836.59,330.86 L837.59,330.52 L838.59,330.20 L839.59,329.91 L840.59,329.63 L841.59,329.37 L842.59,329.13 L843.59,328.91 L844.59,328.70 L845.59,328.51 L846.59,328.33 L847.59,328.16 L848.59,328.01 L849.59,327.87 L850.59,327.74 L851.59,327.63 L852.59,327.52 L853.59,327.42 L854.59,327.33 L855.59,327.25 L856.59,327.17 L857.59,327.11 L858.59,327.04 L859.59,326.99 L860.59,326.94 L861.59,326.89 L862.59,326.85 L863.59,326.82 L864.59,326.79 L865.59,326.76 L866.59,326.73 L867.59,326.71 L868.59,326.69 L869.59,326.67 L870.59,326.66 L871.59,326.64 L872.59,326.63" stroke="#d62728" stroke-linecap="butt"/>
<path d="M184.59,609.65 L185.59,609.65 L186.59,609.65 L187.59,609.65 L188.59,609.65 L189.59,609.64 L190.59,609.64 L191.59,609.64 L192.59,609.64 L193.59,609.64 L194.59,609.64 L195.59,609.64 L196.59,609.64 L197.59,609.63 L198.59,609.63 L199.59,609.63 L200.59,609.63 L201.59,609.63 L202.59,609.63 L203.59,609.63 L204.59,609.63 L205.59,609.62 L206.59,609.62 L207.59,609.62 L208.59,609.62 L209.59,609.62 L210.59,609.62 L211.59,609.62 L212.59,609.61 L213.59,609.61 L214.59,609.61 L215.59,609.61 L216.59,609.61 L217.59,609.61 L218.59,609.60 L219.59,609.60 L220.59,609.60 L221.59,609.60 L222.59,609.60 L223.59,609.60 L224.59,609.59 L225.59,609.59 L226.59,609.59 L227.59,609.59 L228.59,609.59 L229.59,609.58 L230.59,609.58 L231.59,609.58 L232.59,609.58 L233.59,609.58 L234.59,609.57 L235.59,609.57 L236.59,609.57 L237.59,609.57 L238.59,609.57 L239.59,609.56 L240.59,609.56 L241.59,609.56 L242.59,609.56 L243.59,609.55 L244.59,609.55 L245.59,609.55 L246.59,609.55 L247.59,609.54 L248.59,609.54 L249.59,609.54 L250.59,609.54 L251.59,609.53 L252.59,609.53 L253.59,609.53 L254.59,609.53 L255.59,609.52 L256.59,609.52 L257.59,609.52 L258.59,609.51 L259.59,609.51 L260.59,609.51 L261.59,609.51 L262.59,609.50 L263.59,609.50 L264.59,609.50 L265.59,609.49 L266.59,609.49 L267.59,609.49 L268.59,609.48 L269.59,609.48 L270.59,609.48 L271.59,609.47 L272.59,609.47 L273.59,609.47 L274.59,609.46 L275.59,609.46 L276.59,609.45 L277.59,609.45 L278.59,609.45 L279.59,609.44 L280.59,609.44 L281.59,609.43 L282.59,609.43 L283.59,609.43 L284.59,609.42 L285.59,609.42 L286.59,609.41 L287.59,609.41 L288.59,609.40 L289.59,609.40 L290.59,609.39 L291.59,609.39 L292.59,609.38 L293.59,609.38 L294.59,609.38 L295.59,609.37 L296.59,609.37 L297.59,609.36 L298.59,609.35 L299.59,609.35 L300.59,609.34 L301.59,609.34 L302.59,609.33 L303.59,609.33 L304.59,609.32 L305.59,609.32 L306.59,609.31 L307.59,609.30 L308.59,609.30 L309.59,609.29 L310.59,609.29 L311.59,609.28 L312.59,609.27 L313.59,609.27 L314.59,609.26 L315.59,609.25 L316.59,609.25 L317.59,609.24 L318.59,609.23 L319.59,609.23 L320.59,609.22 L321.59,609.21 L322.59,609.20 L323.59,609.20 L324.59,609.19 L325.59,609.18 L326.59,609.17 L327.59,609.16 L328.59,609.16 L329.59,609.15 L330.59,609.14 L331.59,609.13 L332.59,609.12 L333.59,609.11 L334.59,609.10 L335.59,609.10 L336.59,609.09 L337.59,609.08 L338.59,609.07 L339.59,609.06 L340.59,609.05 L341.59,609.04 L342.59,609.03 L343.59,609.02 L344.59,609.01 L345.59,609.00 L346.59,608.99 L347.59,608.98 L348.59,608.97 L349.59,608.95 L350.59,608.94 L351.59,608.93 L352.59,608.92 L353.59,608.91 L354.59,608.90 L355.59,608.88 L356.59,608.87 L357.59,608.86 L358.59,608.85 L359.59,608.83 L360.59,608.82 L361.59,608.81 L362.59,608.79 L363.59,608.78 L364.59,608.77 L365.59,608.75 L366.59,608.74 L367.59,608.72 L368.59,608.71 L369.59,608.69 L370.59,608.68 L371.59,608.66 L372.59,608.65 L373.59,608.63 L374.59,608.61 L375.59,608.60 L376.59,608.58 L377.59,608.56 L378.59,608.55 L379.59,608.53 L380.59,608.51 L381.59,608.49 L382.59,608.48 L383.59,608.46 L384.59,608.44 L385.59,608.42 L386.59,608.40 L387.59,608.38 L388.59,608.36 L389.59,608.34 L390.59,608.32 L391.59,608.30 L392.59,608.28 L393.59,608.26 L394.59,608.23 L395.59,608.21 L396.59,608.19 L397.59,608.17 L398.59,608.14 L399.59,608.12 L400.59,608.09 L401.59,608.07 L402.59,608.05 L403.59,608.02 L404.59,608.00 L405.59,607.97 L406.59,607.94 L407.59,607.92 L408.59,607.89 L409.59,607.86 L410.59,607.83 L411.59,607.81 L412.59,607.78 L413.59,607.75 L414.59,607.72 L415.59,607.69 L416.59,607.66 L417.59,607.63 L418.59,607.59 L419.59,607.56 L420.59,607.53 L421.59,607.50 L422.59,607.46 L423.59,607.43 L424.59,607.39 L425.59,607.36 L426.59,607.32 L427.59,607.29 L428.59,607.25 L429.59,607.21 L430.59,607.18 L431.59,607.14 L432.59,607.10 L433.59,607.06 L434.59,607.02 L435.59,606.98 L436.59,606.93 L437.59,606.89 L438.59,606.85 L439.59,606.81 L440.59,606.76 L441.59,606.72 L442.59,606.67 L443.59,606.63 L444.59,606.58 L445.59,606.53 L446.59,606.48 L447.59,606.43 L448.59,606.38 L449.59,606.33 L450.59,606.28 L451.59,606.23 L452.59,606.17 L453.59,606.12 L454.59,606.07 L455.59,606.01 L456.59,605.95 L457.59,605.90 L458.59,605.84 L459.59,605.78 L460.59,605.72 L461.59,605.66 L462.59,605.60 L463.59,605.53 L464.59,605.47 L465.59,605.40 L466.59,605.34 L467.59,605.27 L468.59,605.20 L469.59,605.13 L470.59,605.06 L471.59,604.99 L472.59,604.92 L473.59,604.85 L474.59,604.77 L475.59,604.70 L476.59,604.62 L477.59,604.54 L478.59,604.46 L479.59,604.38 L480.59,604.30 L481.59,604.22 L482.59,604.13 L483.59,604.05 L484.59,603.96 L485.59,603.87 L486.59,603.78 L487.59,603.69 L488.59,603.60 L489.59,603.50 L490.59,603.41 L491.59,603.31 L492.59,603.21 L493.59,603.11 L494.59,603.01 L495.59,602.91 L496.59,602.80 L497.59,602.70 L498.59,602.59 L499.59,602.48 L500.59,602.37 L501.59,602.26 L502.59,602.14 L503.59,602.03 L504.59,601.91 L505.59,601.79 L506.59,601.67 L507.59,601.54 L508.59,601.42 L509.59,601.29 L510.59,601.16 L511.59,601.03 L512.59,600.89 L513.59,600.76 L514.59,600.62 L515.59,600.48 L516.59,600.34 L517.59,600.19 L518.59,600.05 L519.59,599.90 L520.59,599.75 L521.59,599.59 L522.59,599.44 L523.59,599.28 L524.59,599.12 L525.59,598.96 L526.59,598.79 L527.59,598.62 L528.59,598.45 L529.59,598.28 L530.59,598.10 L531.59,597.93 L532.59,597.74 L533.59,597.56 L534.59,597.37 L535.59,597.18 L536.59,596.99 L537.59,596.80 L538.59,596.60 L539.59,596.40 L540.59,596.19 L541.59,595.98 L542.59,595.77 L543.59,595.56 L544.59,595.34 L545.59,595.12 L546.59,594.90 L547.59,594.67 L548.59,594.44 L549.59,594.20 L550.59,593.97 L551.59,593.73 L552.59,593.48 L553.59,593.23 L554.59,592.98 L555.59,592.72 L556.59,592.46 L557.59,592.20 L558.59,591.93 L559.59,591.66 L560.59,591.38 L561.59,591.10 L562.59,590.82 L563.59,590.53 L564.59,590.24 L565.59,589.94 L566.59,589.64 L567.59,589.33 L568.59,589.02 L569.59,588.71 L570.59,588.39 L571.59,588.06 L572.59,587.73 L573.59,587.40 L574.59,587.06 L575.59,586.72 L576.59,586.37 L577.59,586.01 L578.59,585.65 L579.59,585.29 L580.59,584.92 L581.59,584.54 L582.59,584.16 L583.59,583.78 L584.59,583.38 L585.59,582.99 L586.59,582.58 L587.59,582.17 L588.59,581.76 L589.59,581.34 L590.59,580.91 L591.59,580.48 L592.59,580.04 L593.59,579.59 L594.59,579.14 L595.59,578.68 L596.59,578.22 L597.59,577.75 L598.59,577.27 L599.59,576.78 L600.59,576.29 L601.59,575.79 L602.59,575.29 L603.59,574.78 L604.59,574.26 L605.59,573.73 L606.59,573.20 L607.59,572.65 L608.59,572.10 L609.59,571.55 L610.59,570.98 L611.59,570.41 L612.59,569.83 L613.59,569.24 L614.59,568.65 L615.59,568.05 L616.59,567.43 L617.59,566.81 L618.59,566.18 L619.59,565.55 L620.59,564.90 L621.59,564.25 L622.59,563.59 L623.59,562.92 L624.59,562.24 L625.59,561.55 L626.59,560.85 L627.59,560.14 L628.59,559.43 L629.59,558.70 L630.59,557.97 L631.59,557.22 L632.59,556.47 L633.59,555.71 L634.59,554.93 L635.59,554.15 L636.59,553.36 L637.59,552.56 L638.59,551.74 L639.59,550.92 L640.59,550.09 L641.59,549.25 L642.59,548.39 L643.59,547.53 L644.59,546.66 L645.59,545.77 L646.59,544.88 L647.59,543.97 L648.59,543.06 L649.59,542.13 L650.59,541.19 L651.59,540.25 L652.59,539.29 L653.59,538.32 L654.59,537.34 L655.59,536.34 L656.59,535.34 L657.59,534.33 L658.59,533.30 L659.59,532.26 L660.59,531.21 L661.59,530.15 L662.59,529.08 L663.59,528.00 L664.59,526.91 L665.59,525.80 L666.59,524.68 L667.59,523.56 L668.59,522.42 L669.59,521.27 L670.59,520.10 L671.59,518.93 L672.59,517.74 L673.59,516.54 L674.59,515.34 L675.59,514.12 L676.59,512.88 L677.59,511.64 L678.59,510.38 L679.59,509.12 L680.59,507.84 L681.59,506.55 L682.59,505.25 L683.59,503.94 L684.59,502.62 L685.59,501.28 L686.59,499.94 L687.59,498.58 L688.59,497.22 L689.59,495.84 L690.59,494.45 L691.59,493.05 L692.59,491.65 L693.59,490.23 L694.59,488.80 L695.59,487.36 L696.59,485.91 L697.59,484.45 L698.59,482.98 L699.59,481.50 L700.59,480.01 L701.59,478.52 L702.59,477.01 L703.59,475.50 L704.59,473.97 L705.59,472.44 L706.59,470.90 L707.59,469.35 L708.59,467.79 L709.59,466.23 L710.59,464.66 L711.59,463.08 L712.59,461.49 L713.59,459.90 L714.59,458.30 L715.59,456.69 L716.59,455.08 L717.59,453.46 L718.59,451.84 L719.59,450.21 L720.59,448.58 L721.59,446.94 L722.59,445.30 L723.59,443.65 L724.59,442.00 L725.59,440.34 L726.59,438.69 L727.59,437.03 L728.59,435.36 L729.59,433.70 L730.59,432.03 L731.59,430.36 L732.59,428.69 L733.59,427.02 L734.59,425.35 L735.59,423.68 L736.59,422.01 L737.59,420.35 L738.59,418.68 L739.59,417.01 L740.59,415.35 L741.59,413.69 L742.59,412.03 L743.59,410.38 L744.59,408.73 L745.59,407.09 L746.59,405.45 L747.59,403.81 L748.59,402.19 L749.59,400.57 L750.59,398.95 L751.59,397.35 L752.59,395.75 L753.59,394.16 L754.59,392.58 L755.59,391.01 L756.59,389.45 L757.59,387.90 L758.59,386.36 L759.59,384.83 L760.59,383.32 L761.59,381.82 L762.59,380.33 L763.59,378.86 L764.59,377.40 L765.59,375.95 L766.59,374.52 L767.59,373.11 L768.59,371.71 L769.59,370.33 L770.59,368.97 L771.59,367.63 L772.59,366.30 L773.59,364.99 L774.59,363.71 L775.59,362.44 L776.59,361.19 L777.59,359.96 L778.59,358.76 L779.59,357.57 L780.59,356.41 L781.59,355.27 L782.59,354.15 L783.59,353.06 L784.59,351.99 L785.59,350.94 L786.59,349.91 L787.59,348.91 L788.59,347.94 L789.59,346.98 L790.59,346.06 L791.59,345.15 L792.59,344.27 L793.59,343.42 L794.59,342.59 L795.59,341.79 L796.59,341.01 L797.59,340.25 L798.59,339.53 L799.59,338.82 L800.59,338.14 L801.59,337.49 L802.59,336.85 L803.59,336.25 L804.59,335.67 L805.59,335.11 L806.59,334.57 L807.59,334.06 L808.59,333.57 L809.59,333.10 L810.59,332.65 L811.59,332.23 L812.59,331.83 L813.59,331.45 L814.59,331.08 L815.59,330.74 L816.59,330.42 L817.59,330.11 L818.59,329.83 L819.59,329.56 L820.59,329.30 L821.59,329.07 L822.59,328.85 L823.59,328.64 L824.59,328.45 L825.59,328.27 L826.59,328.11 L827.59,327.95 L828.59,327.81 L829.59,327.69 L830.59,327.57 L831.59,327.46 L832.59,327.36 L833.59,327.27 L834.59,327.19 L835.59,327.11 L836.59,327.05 L837.59,326.99 L838.59,326.93 L839.59,326.88 L840.59,326.84 L841.59,326.80 L842.59,326.77 L843.59,326.74 L844.59,326.71 L845.59,326.69 L846.59,326.67 L847.59,326.65 L848.59,326.63 L849.59,326.62 L850.59,326.61 L851.59,326.60 L852.59,326.59 L853.59,326.58 L854.59,326.58 L855.59,326.57 L856.59,326.57 L857.59,326.57 L858.59,326.56 L859.59,326.56 L860.59,326.56 L861.59,326.56 L862.59,326.56 L863.59,326.55 L864.59,326.55 L865.59,326.55 L866.59,326.55 L867.59,326.55 L868.59,326.55 L869.59,326.55 L870.59,326.55 L871.59,326.55 L872.59,326.55 L873.59,326.55 L874.59,326.55 L875.59,326.55 L876.59,326.55 L877.59,326.55 L878.59,326.55 L879.59,326.55 L880.59,326.55 L881.59,326.55 L882.59,326.55 L883.59,326.55 L884.59,326.55 L885.59,326.55 L886.59,326.55 L887.59,326.55 L888.59,326.55 L889.59,326.55 L890.59,326.55 L891.59,326.55 L892.59,326.55 L893.59,326.55 L894.59,326.55 L895.59,326.55 L896.59,326.55 L897.59,326.55 L898.59,326.55 L899.59,326.55 L900.59,326.55 L901.59,326.55 L902.59,326.55 L903.59,326.55 L904.59,326.55 L905.59,326.55 L906.59,326.55 L907.59,326.55 L908.59,326.55 L909.59,326.55 L910.59,326.55 L911.59,326.55 L912.59,326.55 L913.59,326.55 L914.59,326.55 L915.59,326.55 L916.59,326.55 L917.59,326.55 L918.59,326.55 L919.59,326.55 L920.59,326.55 L921.59,326.55 L922.59,326.55 L923.59,326.55 L924.59,326.55 L925.59,326.55 L926.59,326.55 L927.59,326.55 L928.59,326.55 L929.59,326.55 L930.59,326.55 L931.59,326.55 L932.59,326.55 L933.59,326.55 L934.59,326.55 L935.59,326.55 L936.59,326.55 L937.59,326.55 L938.59,326.55 L939.59,326.55 L940.59,326.55 L941.59,326.55 L942.59,326.55 L943.59,326.55 L944.59,326.55 L945.59,326.55 L946.59,326.55 L947.59,326.55 L948.59,326.55 L949.59,326.55 L950.59,326.55 L951.59,326.55 L952.59,326.55 L953.59,326.55 L954.59,326.55 L955.59,326.55 L956.59,326.55 L957.59,326.55 L958.59,326.55 L959.59,326.55 L960.59,326.55 L960.70,326.55" stroke="#9467bd" stroke-linecap="square"/>
</g>
<g stroke="#000" stroke-width="2.15" fill="none">
<line x1="174.10" y1="623.5" x2="174.10" y2="632.70"/>
<line x1="278.98" y1="623.5" x2="278.98" y2="632.70"/>
<line x1="383.86" y1="623.5" x2="383.86" y2="632.70"/>
<line x1="488.74" y1="623.5" x2="488.74" y2="632.70"/>
<line x1="593.62" y1="623.5" x2="593.62" y2="632.70"/>
<line x1="698.50" y1="623.5" x2="698.50" y2="632.70"/>
<line x1="803.38" y1="623.5" x2="803.38" y2="632.70"/>
<line x1="908.26" y1="623.5" x2="908.26" y2="632.70"/>
<line x1="137.10" y1="298.25" x2="146.3" y2="298.25"/>
<line x1="137.10" y1="214.92" x2="146.3" y2="214.92"/>
<line x1="137.10" y1="131.58" x2="146.3" y2="131.58"/>
<line x1="137.10" y1="48.25" x2="146.3" y2="48.25"/>
<line x1="137.10" y1="609.30" x2="146.3" y2="609.30"/>
<line x1="137.10" y1="552.68" x2="146.3" y2="552.68"/>
<line x1="137.10" y1="496.06" x2="146.3" y2="496.06"/>
<line x1="137.10" y1="439.44" x2="146.3" y2="439.44"/>
<line x1="137.10" y1="382.82" x2="146.3" y2="382.82"/>
<line x1="137.10" y1="326.20" x2="146.3" y2="326.20"/>
<rect x="146.3" y="1.1" width="852.7" height="311.34999999999997"/>
<rect x="146.3" y="312.45" width="852.7" height="311.05"/>
</g>
<g font-size="25.0">
<text x="174.10" y="659.9" text-anchor="middle">0</text>
<text x="278.98" y="659.9" text-anchor="middle">200</text>
<text x="383.86" y="659.9" text-anchor="middle">400</text>
<text x="488.74" y="659.9" text-anchor="middle">600</text>
<text x="593.62" y="659.9" text-anchor="middle">800</text>
<text x="698.50" y="659.9" text-anchor="middle">1000</text>
<text x="803.38" y="659.9" text-anchor="middle">1200</text>
<text x="908.26" y="659.9" text-anchor="middle">1400</text>
<text x="129.0" y="307.55" text-anchor="end">0.000</text>
<text x="129.0" y="224.22" text-anchor="end">0.002</text>
<text x="129.0" y="140.88" text-anchor="end">0.004</text>
<text x="129.0" y="57.55" text-anchor="end">0.006</text>
<text x="129.0" y="618.60" text-anchor="end">0.0</text>
<text x="129.0" y="561.98" text-anchor="end">0.2</text>
<text x="129.0" y="505.36" text-anchor="end">0.4</text>
<text x="129.0" y="448.74" text-anchor="end">0.6</text>
<text x="129.0" y="392.12" text-anchor="end">0.8</text>
<text x="129.0" y="335.50" text-anchor="end">1.0</text>
</g>
<text id="xl" y="705.6" font-size="34.45" xml:space="preserve"><tspan x="332.0" word-spacing="0.5">Host galaxy </tspan><tspan x="547.87">DM</tspan><tspan x="604.3" dy="5.5" font-size="24.12">h</tspan><tspan x="643.45" dy="-5.5" word-spacing="0.3">(pc cm</tspan><tspan x="761.9" dy="-13.1" font-size="24.12">−3</tspan><tspan x="798.53" dy="13.1">)</tspan></text>
<text id="yl1" transform="translate(39.5,304.35) rotate(-90)" font-size="34.45" xml:space="preserve"><tspan x="0" word-spacing="0.33">PDF  (pc cm</tspan><tspan x="208.45" dy="-12.1" font-size="24.12">−3</tspan><tspan x="244.7" dy="12.1">)</tspan><tspan x="258.63" dy="-12.1" font-size="24.12">−1</tspan></text>
<text id="yl2" transform="translate(70.8,504.2) rotate(-90)" font-size="34.45">CDF</text>
<rect x="158.6" y="13.6" width="202.0" height="192.1" rx="4.6" ry="4.6" fill="#fff" fill-opacity="0.8" stroke="#ccc" stroke-opacity="0.8" stroke-width="2.7"/>
<line x1="168.4" y1="34.0" x2="217.6" y2="34.0" stroke="#1f77b4" stroke-width="5.2" stroke-linecap="square"/>
<text y="41.6" font-size="25.0"><tspan x="237.4">f</tspan><tspan x="246.2" dy="4.3" font-size="17.50">IGM</tspan><tspan x="285.0" dy="-4.3">=</tspan><tspan x="310.1">0.4</tspan></text>
<line x1="168.4" y1="71.0" x2="217.6" y2="71.0" stroke="#ff7f0e" stroke-width="5.2" stroke-linecap="square"/>
<text y="78.6" font-size="25.0"><tspan x="237.4">f</tspan><tspan x="246.2" dy="4.3" font-size="17.50">IGM</tspan><tspan x="285.0" dy="-4.3">=</tspan><tspan x="310.1">0.6</tspan></text>
<line x1="168.4" y1="107.9" x2="217.6" y2="107.9" stroke="#2ca02c" stroke-width="5.2" stroke-linecap="square"/>
<text y="115.5" font-size="25.0"><tspan x="237.4">f</tspan><tspan x="246.2" dy="4.3" font-size="17.50">IGM</tspan><tspan x="285.0" dy="-4.3">=</tspan><tspan x="310.1">0.8</tspan></text>
<line x1="168.4" y1="145.1" x2="217.6" y2="145.1" stroke="#d62728" stroke-width="5.2" stroke-linecap="square"/>
<text y="152.7" font-size="25.0"><tspan x="237.4">f</tspan><tspan x="246.2" dy="4.3" font-size="17.50">IGM</tspan><tspan x="285.0" dy="-4.3">=</tspan><tspan x="310.1">1.0</tspan></text>
<line x1="168.4" y1="182.1" x2="217.6" y2="182.1" stroke="#9467bd" stroke-width="5.2" stroke-linecap="square"/>
<text y="189.7" font-size="25.0"><tspan x="237.4">f</tspan><tspan x="246.2" dy="4.3" font-size="17.50">IGM</tspan><tspan x="285.0" dy="-4.3">=</tspan><tspan x="310.1">1.2</tspan></text>
</svg></body></html>
